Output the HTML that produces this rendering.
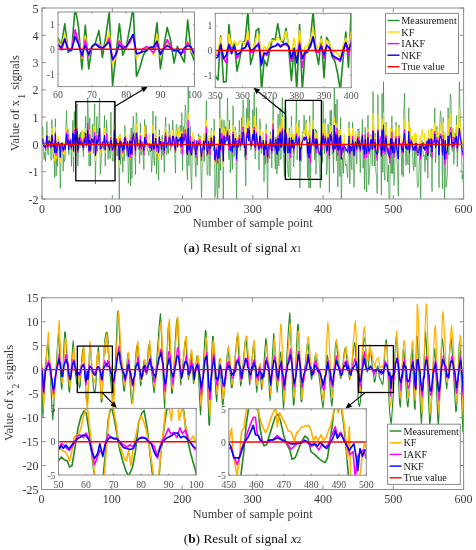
<!DOCTYPE html><html><head><meta charset="utf-8"><title>Signals</title><style>html,body{margin:0;padding:0;background:#fff;width:476px;height:550px;overflow:hidden}</style></head><body><svg width="476" height="550" viewBox="0 0 476 550" style="font-family:'Liberation Serif','Times New Roman',serif;display:block">
<rect width="476" height="550" fill="#fff"/>
<clipPath id="c1"><rect x="42" y="8" width="421.6" height="191.0"/></clipPath>
<rect x="42" y="8" width="421.6" height="191.0" fill="#fff"/>
<text x="58.0" y="98.3" text-anchor="middle" font-size="9.8" fill="#505050">60</text>
<text x="92.1" y="98.3" text-anchor="middle" font-size="9.8" fill="#505050">70</text>
<text x="126.2" y="98.3" text-anchor="middle" font-size="9.8" fill="#505050">80</text>
<text x="160.4" y="98.3" text-anchor="middle" font-size="9.8" fill="#505050">90</text>
<text x="194.5" y="98.3" text-anchor="middle" font-size="9.8" fill="#505050">100</text>
<text x="55.0" y="77.8" text-anchor="end" font-size="9.8" fill="#505050">-1</text>
<text x="55.0" y="53.0" text-anchor="end" font-size="9.8" fill="#505050">0</text>
<text x="55.0" y="28.1" text-anchor="end" font-size="9.8" fill="#505050">1</text>
<text x="215.3" y="99.3" text-anchor="middle" font-size="9.8" fill="#505050">350</text>
<text x="242.5" y="99.3" text-anchor="middle" font-size="9.8" fill="#505050">360</text>
<text x="269.7" y="99.3" text-anchor="middle" font-size="9.8" fill="#505050">370</text>
<text x="296.8" y="99.3" text-anchor="middle" font-size="9.8" fill="#505050">380</text>
<text x="324.0" y="99.3" text-anchor="middle" font-size="9.8" fill="#505050">390</text>
<text x="351.2" y="99.3" text-anchor="middle" font-size="9.8" fill="#505050">400</text>
<text x="212.3" y="79.0" text-anchor="end" font-size="9.8" fill="#505050">-1</text>
<text x="212.3" y="54.2" text-anchor="end" font-size="9.8" fill="#505050">0</text>
<text x="212.3" y="29.4" text-anchor="end" font-size="9.8" fill="#505050">1</text>
<g clip-path="url(#c1)" fill="none" stroke-linejoin="round">
<polyline points="42,144.4 42.7,126.9 43.4,149.1 44.1,159.5 44.8,152.2 45.5,161.3 46.2,143.4 46.9,121.6 47.6,152.8 48.3,155 49,136 49.7,138.3 50.4,142.6 51.1,160.4 51.8,119.5 52.5,132.5 53.2,158.3 53.9,152.3 54.6,177.3 55.4,118.6 56.1,176.3 56.8,148.5 57.5,166.4 58.2,139.7 58.9,141.7 59.6,147.7 60.3,188.3 61,153.8 61.7,145.3 62.4,142.4 63.1,171.3 63.8,152.8 64.5,161.6 65.2,158.7 65.9,125.7 66.6,110.9 67.3,145 68,128.8 68.7,154.8 69.4,146.4 70.1,142.5 70.8,143.3 71.5,166.2 72.2,143.1 72.9,120.2 73.6,172 74.3,111.5 75,142.3 75.7,155.9 76.4,108.6 77.1,104 77.8,166 78.5,143.1 79.2,134 79.9,147.8 80.6,132.1 81.3,145.6 82.1,132.4 82.8,148.7 83.5,156.7 84.2,132.1 84.9,139.5 85.6,116.3 86.3,147.7 87,145.2 87.7,98 88.4,119.9 89.1,166.3 89.8,118 90.5,166 91.2,141.2 91.9,137.1 92.6,124 93.3,153.4 94,129.7 94.7,104 95.4,184 96.1,149.9 96.8,116.3 97.5,151 98.2,141.7 98.9,121.2 99.6,98 100.3,174.2 101,164.3 101.7,151 102.4,145.2 103.1,142.8 103.8,144.4 104.5,115.5 105.2,166 105.9,141.2 106.6,120.4 107.3,134.6 108.1,159.4 108.8,141.2 109.5,151 110.2,158.6 110.9,112.2 111.6,147.7 112.3,157.8 113,161.5 113.7,141.3 114.4,101.7 115.1,160.3 115.8,156.3 116.5,140.5 117.2,155.9 117.9,147.8 118.6,148.4 119.3,198.9 120,134.5 120.7,164.3 121.4,146 122.1,143.7 122.8,172.5 123.5,139.4 124.2,161 124.9,125.6 125.6,140.7 126.3,145.1 127,155.9 127.7,146.7 128.4,183.3 129.1,166.4 129.8,137.4 130.5,185.9 131.2,127.9 131.9,178.5 132.6,129.6 133.3,116 134,129.2 134.8,141.9 135.5,174.6 136.2,112.6 136.9,116.1 137.6,145.7 138.3,149.8 139,147.6 139.7,163.7 140.4,122.7 141.1,155.2 141.8,145.4 142.5,147 143.2,156.9 143.9,169.8 144.6,119.4 145.3,147.5 146,125.2 146.7,144.2 147.4,150.6 148.1,151 148.8,155.6 149.5,144.3 150.2,152 150.9,150.5 151.6,172.2 152.3,160.7 153,111.1 153.7,158 154.4,165.7 155.1,137.6 155.8,116 156.5,173.9 157.2,148.7 157.9,157.3 158.6,180.2 159.3,129.5 160,144.9 160.8,143 161.5,159.8 162.2,135.1 162.9,155.5 163.6,147.4 164.3,172.4 165,130.9 165.7,117 166.4,154.8 167.1,152.8 167.8,145.1 168.5,153.5 169.2,123.9 169.9,131.4 170.6,150.7 171.3,147.6 172,144 172.7,120 173.4,130.3 174.1,136.5 174.8,156.1 175.5,173.2 176.2,124.7 176.9,124.3 177.6,147.4 178.3,133.1 179,128.1 179.7,127 180.4,125.1 181.1,154 181.8,112.6 182.5,170.6 183.2,126.3 183.9,134 184.6,126 185.3,104.8 186,113.1 186.7,168.6 187.5,180.1 188.2,83.4 188.9,165.9 189.6,144.7 190.3,126.6 191,179.4 191.7,189.3 192.4,138.9 193.1,143.5 193.8,149.7 194.5,143.6 195.2,162.8 195.9,176.8 196.6,148 197.3,165.3 198,145.6 198.7,133.6 199.4,145.7 200.1,135.7 200.8,165.7 201.5,197.7 202.2,166 202.9,163.6 203.6,140.2 204.3,161.4 205,136.7 205.7,137.1 206.4,100.5 207.1,174.7 207.8,175.3 208.5,146.4 209.2,144.7 209.9,176 210.6,154.5 211.3,128.2 212,146.2 212.7,142.7 213.5,150.8 214.2,119.1 214.9,197.3 215.6,192.8 216.3,159.6 217,187.8 217.7,204.5 218.4,156.1 219.1,188.1 219.8,96.8 220.5,170.4 221.2,136.1 221.9,119.4 222.6,140.9 223.3,200.2 224,120.4 224.7,143.6 225.4,126.5 226.1,132.1 226.8,139.6 227.5,97.9 228.2,133 228.9,159.7 229.6,119.9 230.3,172.9 231,157.8 231.7,144.6 232.4,169.5 233.1,105.7 233.8,157 234.5,154.9 235.2,127 235.9,133.8 236.6,203.5 237.3,138.8 238,145.8 238.7,142.5 239.4,120.4 240.2,150.5 240.9,148.5 241.6,117.4 242.3,136.8 243,99.9 243.7,109.6 244.4,157.1 245.1,153.3 245.8,185.9 246.5,108.5 247.2,122.4 247.9,98.4 248.6,129.1 249.3,99.4 250,139.5 250.7,150.2 251.4,149.1 252.1,143.2 252.8,109.6 253.5,131.6 254.2,92.3 254.9,157.8 255.6,159.1 256.3,107.3 257,132.7 257.7,142.9 258.4,152.5 259.1,170.2 259.8,118.9 260.5,124.1 261.2,153.6 261.9,149.7 262.6,149.6 263.3,141.9 264,181.7 264.7,149.9 265.4,164.4 266.2,123.7 266.9,162.5 267.6,204.1 268.3,149.5 269,151.8 269.7,158.6 270.4,132.2 271.1,144.5 271.8,167.9 272.5,133.5 273.2,96.8 273.9,150.5 274.6,149.2 275.3,169.2 276,136.9 276.7,174 277.4,170.7 278.1,114 278.8,166 279.5,118.7 280.2,108.1 280.9,159.6 281.6,131.2 282.3,97.7 283,149.1 283.7,158.6 284.4,176.9 285.1,108.1 285.8,108.9 286.5,121.4 287.2,158.8 287.9,172.8 288.6,176.9 289.3,128.3 290,179.4 290.7,178.5 291.4,115.8 292.1,144.7 292.9,134.9 293.6,167.1 294.3,153.2 295,136.5 295.7,133.2 296.4,100.8 297.1,159.7 297.8,148 298.5,122.6 299.2,120.1 299.9,188.1 300.6,154.8 301.3,161.3 302,144.7 302.7,131.6 303.4,133.2 304.1,115 304.8,133.2 305.5,135.7 306.2,120.1 306.9,141.4 307.6,177.7 308.3,141.4 309,188.1 309.7,115.8 310.4,188.1 311.1,148 311.8,146.3 312.5,133.2 313.2,100.8 313.9,144.7 314.6,159.7 315.3,129.1 316,174.4 316.7,130 317.4,136.5 318.1,151.5 318.9,156.4 319.6,169.5 320.3,188.1 321,154.8 321.7,124.2 322.4,163 323.1,100.8 323.8,134.6 324.5,153.9 325.2,118.5 325.9,139.1 326.6,175 327.3,167.9 328,124.1 328.7,132.7 329.4,192.5 330.1,110.3 330.8,129.3 331.5,110.4 332.2,154.2 332.9,151.9 333.6,173.1 334.3,81.7 335,148.9 335.7,104 336.4,160.9 337.1,99.2 337.8,187.1 338.5,154.2 339.2,129.9 339.9,176.5 340.6,117 341.3,204.5 342,171.2 342.7,157.3 343.4,173.4 344.1,145.7 344.8,158.2 345.6,165.7 346.3,164.1 347,170.9 347.7,177.7 348.4,145.7 349.1,121.6 349.8,184 350.5,144.3 351.2,161.3 351.9,169.8 352.6,122.3 353.3,157.9 354,187.2 354.7,164.7 355.4,134.4 356.1,150.4 356.8,164.1 357.5,129.1 358.2,148.5 358.9,128.7 359.6,145.7 360.3,172.9 361,147.1 361.7,143.1 362.4,119.3 363.1,168.2 363.8,145.5 364.5,189.7 365.2,127.3 365.9,172.9 366.6,192.1 367.3,146 368,115.2 368.7,184.7 369.4,173.2 370.1,164.1 370.8,135.6 371.6,134.4 372.3,165.9 373,91.5 373.7,128.9 374.4,166 375.1,132.9 375.8,170.3 376.5,176.7 377.2,193.4 377.9,94.7 378.6,153 379.3,137.9 380,145.3 380.7,140.1 381.4,195.3 382.1,93.2 382.8,172.3 383.5,81.7 384.2,171.6 384.9,180.3 385.6,124.3 386.3,122.3 387,170.4 387.7,182 388.4,164.8 389.1,200.2 389.8,204.5 390.5,130.2 391.2,173.6 391.9,116.2 392.6,173.7 393.3,152.2 394,185.4 394.7,171 395.4,133.6 396.1,122.1 396.8,155.4 397.5,168.2 398.3,196.1 399,124.9 399.7,145.3 400.4,146.7 401.1,147 401.8,175.2 402.5,146.2 403.2,176.9 403.9,109 404.6,93.1 405.3,148.2 406,165.5 406.7,146.2 407.4,161.2 408.1,164.9 408.8,107.8 409.5,173.2 410.2,127.7 410.9,147.3 411.6,137.5 412.3,149.5 413,164.6 413.7,170.7 414.4,151 415.1,167.1 415.8,137.9 416.5,144.6 417.2,182.4 417.9,187.6 418.6,181.9 419.3,161.6 420,152.6 420.7,202.4 421.4,141.9 422.1,140.2 422.8,148.9 423.5,156.3 424.3,154.9 425,171.8 425.7,152 426.4,160 427.1,141.8 427.8,178.3 428.5,137.8 429.2,140.4 429.9,148.4 430.6,156.8 431.3,128.8 432,191.5 432.7,131.4 433.4,135.9 434.1,136.4 434.8,107.7 435.5,163 436.2,151.8 436.9,126.3 437.6,132.2 438.3,138.5 439,187.6 439.7,129.1 440.4,111.1 441.1,115.6 441.8,137.7 442.5,188.9 443.2,117.5 443.9,148.6 444.6,204.5 445.3,133.6 446,187.2 446.7,181.6 447.4,175 448.1,107.8 448.8,155.1 449.5,136.6 450.2,94.1 451,98.5 451.7,147.4 452.4,151.4 453.1,128.4 453.8,164.5 454.5,149 455.2,133 455.9,141.2 456.6,115.6 457.3,166.8 458,146.1 458.7,123.2 459.4,81.7 460.1,113.3 460.8,132.9 461.5,153.4 462.2,179.2 462.9,173.7 463.6,192.3" stroke="#26902f" stroke-width="0.65"/>
<polyline points="42,139.3 42.7,135.5 43.4,145.4 44.1,147.7 44.8,143.9 45.5,146.9 46.2,141.6 46.9,134.6 47.6,148.1 48.3,146.2 49,137.7 49.7,136.4 50.4,141 51.1,147 51.8,127.9 52.5,137.2 53.2,152.9 53.9,149.5 54.6,161 55.4,127.2 56.1,159 56.8,141.2 57.5,150.7 58.2,136 58.9,138.8 59.6,144.4 60.3,162.3 61,146.5 61.7,142.6 62.4,143.3 63.1,154.4 63.8,141.9 64.5,154.7 65.2,148.1 65.9,137 66.6,127.6 67.3,140.5 68,136 68.7,144.9 69.4,147.7 70.1,138.7 70.8,143.7 71.5,150.2 72.2,141.4 72.9,139.1 73.6,156.4 74.3,127.6 75,137.3 75.7,146.6 76.4,126.2 77.1,128.8 77.8,147.7 78.5,136.8 79.2,137.8 79.9,144.4 80.6,141.4 81.3,140.4 82.1,129.7 82.8,142.2 83.5,144.1 84.2,134.6 84.9,141.2 85.6,128.1 86.3,144.4 87,142.8 87.7,125.3 88.4,134.6 89.1,154.3 89.8,129.7 90.5,152.6 91.2,141.2 91.9,138.7 92.6,137.9 93.3,144.4 94,137.9 94.7,126.4 95.4,160.8 96.1,152.6 96.8,134.6 97.5,141.2 98.2,140.3 98.9,134.6 99.6,129.7 100.3,154.3 101,147.7 101.7,145.2 102.4,142.8 103.1,142.8 103.8,151 104.5,128.1 105.2,152.6 105.9,142.8 106.6,137.1 107.3,142.8 108.1,145.2 108.8,145.2 109.5,149.3 110.2,147.7 110.9,135.4 111.6,146.1 112.3,151 113,149.8 113.7,139.2 114.4,125.1 115.1,154.2 115.8,147.4 116.5,137.9 117.2,142.2 117.9,149 118.6,136.1 119.3,167.7 120,134.7 120.7,146.6 121.4,139.5 122.1,140.8 122.8,156.5 123.5,137.7 124.2,150.4 124.9,140.4 125.6,132.1 126.3,139.8 127,141.3 127.7,144.9 128.4,153.7 129.1,146.3 129.8,134.1 130.5,158.9 131.2,137.7 131.9,156.2 132.6,141.1 133.3,134 134,134.6 134.8,142.9 135.5,154.4 136.2,128.2 136.9,124 137.6,138.2 138.3,143.6 139,139.2 139.7,151.4 140.4,133 141.1,143.2 141.8,144.9 142.5,143 143.2,149.9 143.9,151.4 144.6,126.1 145.3,144.4 146,132.4 146.7,143.4 147.4,146.7 148.1,147.1 148.8,141.7 149.5,134.5 150.2,142.8 150.9,145.4 151.6,150.6 152.3,148.6 153,124.8 153.7,145.7 154.4,149 155.1,136.4 155.8,130.6 156.5,154.2 157.2,147.3 157.9,147.4 158.6,159.6 159.3,135 160,143.6 160.8,139.9 161.5,145.9 162.2,140.7 162.9,147.5 163.6,144.5 164.3,150.2 165,130.4 165.7,127 166.4,145.9 167.1,140.1 167.8,145 168.5,140.3 169.2,133.9 169.9,142.8 170.6,135.9 171.3,137.5 172,143.2 172.7,130 173.4,135.3 174.1,136.9 174.8,149.4 175.5,154.2 176.2,131 176.9,131.5 177.6,138.4 178.3,135.5 179,127.3 179.7,135.2 180.4,131.7 181.1,149.5 181.8,130.7 182.5,147.5 183.2,135.4 183.9,134.6 184.6,132.9 185.3,126.8 186,128.3 186.7,151.6 187.5,156.2 188.2,113.1 188.9,147.3 189.6,141.9 190.3,135.3 191,153.7 191.7,158.8 192.4,135.1 193.1,132.5 193.8,140 194.5,139.9 195.2,148.1 195.9,155.7 196.6,144 197.3,151.3 198,141.6 198.7,136.7 199.4,138.5 200.1,137.5 200.8,149.2 201.5,165 202.2,144.3 202.9,146.4 203.6,133.3 204.3,144.6 205,132.7 205.7,137.6 206.4,120 207.1,144.8 207.8,155.8 208.5,137.4 209.2,135.3 209.9,151.5 210.6,141.8 211.3,129.7 212,142.3 212.7,137.9 213.5,144.7 214.2,131.3 214.9,162.9 215.6,159.7 216.3,145.4 217,156 217.7,167.9 218.4,138.8 219.1,154.1 219.8,118.3 220.5,151.1 221.2,136.5 221.9,127.9 222.6,137 223.3,166.8 224,127.8 224.7,131 225.4,137.4 226.1,131.7 226.8,136.5 227.5,121 228.2,131 228.9,148.9 229.6,129.1 230.3,146.8 231,145.3 231.7,140.6 232.4,149.2 233.1,125 233.8,140.1 234.5,146.1 235.2,129.9 235.9,138.5 236.6,161.1 237.3,137.3 238,147.1 238.7,138.5 239.4,132.6 240.2,142.9 240.9,136.5 241.6,131.5 242.3,139.1 243,117.3 243.7,124.9 244.4,139.9 245.1,141.8 245.8,158.2 246.5,124.9 247.2,126.8 247.9,118 248.6,132.9 249.3,120.9 250,137.4 250.7,142.9 251.4,135.5 252.1,138.5 252.8,128.2 253.5,135.2 254.2,116.1 254.9,142.5 255.6,145.2 256.3,126 257,134.1 257.7,142.9 258.4,145.7 259.1,146.9 259.8,130 260.5,129.7 261.2,139 261.9,139.1 262.6,140.8 263.3,131.8 264,151.7 264.7,141.9 265.4,144.6 266.2,129.3 266.9,148.3 267.6,162.1 268.3,141.2 269,147.1 269.7,144.7 270.4,134.6 271.1,139.9 271.8,152.5 272.5,135.3 273.2,119.8 273.9,140.7 274.6,143.6 275.3,146.5 276,138.9 276.7,150.8 277.4,145.2 278.1,128.4 278.8,148.4 279.5,125.3 280.2,125.2 280.9,145.2 281.6,132.6 282.3,117.1 283,146.4 283.7,146.3 284.4,153.9 285.1,127.1 285.8,126.8 286.5,131.6 287.2,143.1 287.9,148 288.6,144.7 289.3,130 290,151.5 290.7,153.2 291.4,126.7 292.1,139.8 292.9,134.1 293.6,139 294.3,134.1 295,134.9 295.7,138.2 296.4,123.4 297.1,144.7 297.8,143.1 298.5,130.8 299.2,126.7 299.9,155.6 300.6,139.8 301.3,143.1 302,135.7 302.7,133.2 303.4,134.1 304.1,130 304.8,134.1 305.5,132.4 306.2,123.4 306.9,138.2 307.6,149.9 308.3,130.8 309,151.5 309.7,122.6 310.4,153.2 311.1,140.6 311.8,139 312.5,133.2 313.2,120.1 313.9,141.4 314.6,140.6 315.3,131.6 316,148 316.7,133.2 317.4,136.5 318.1,143.9 318.9,146.3 319.6,148 320.3,153.2 321,139 321.7,130.8 322.4,141.4 323.1,123.4 323.8,130.6 324.5,144.1 325.2,123.4 325.9,133.2 326.6,150.6 327.3,144.4 328,133.7 328.7,137.7 329.4,159.5 330.1,125.5 330.8,132.5 331.5,125.7 332.2,140.9 332.9,146.1 333.6,147.1 334.3,117.1 335,140.9 335.7,123 336.4,146.8 337.1,123.7 337.8,156.4 338.5,141.1 339.2,130.1 339.9,148 340.6,129.5 341.3,162.4 342,150 342.7,140.9 343.4,153.9 344.1,134.3 344.8,143.8 345.6,147.5 346.3,143.7 347,144.4 347.7,148.9 348.4,134.7 349.1,128 349.8,148.8 350.5,133.6 351.2,143.8 351.9,142.8 352.6,128.1 353.3,141.9 354,155.8 354.7,145.5 355.4,131 356.1,142.8 356.8,142.7 357.5,130.2 358.2,137.7 358.9,136.9 359.6,137.6 360.3,145.9 361,140 361.7,136.1 362.4,133.8 363.1,144 363.8,139 364.5,151.6 365.2,135.3 365.9,145.7 366.6,155.4 367.3,135.1 368,128.2 368.7,153.6 369.4,141.5 370.1,146.4 370.8,135.3 371.6,133.6 372.3,147.5 373,113.4 373.7,126.1 374.4,146.7 375.1,137 375.8,143.1 376.5,145.7 377.2,152.8 377.9,114.7 378.6,142.1 379.3,134.5 380,140.6 380.7,138.7 381.4,152.9 382.1,119.1 382.8,140.7 383.5,112.7 384.2,148.4 384.9,147.7 385.6,123.9 386.3,126.8 387,149.4 387.7,149.4 388.4,140.2 389.1,158.6 389.8,160.9 390.5,128.2 391.2,146.8 391.9,128.7 392.6,148.2 393.3,141.2 394,150.7 394.7,145.8 395.4,129 396.1,125.9 396.8,144.5 397.5,143.9 398.3,153 399,127.6 399.7,133.6 400.4,138.5 401.1,139.6 401.8,145 402.5,139.6 403.2,154 403.9,120.1 404.6,118.9 405.3,138.2 406,147.6 406.7,140.3 407.4,145.3 408.1,144.5 408.8,121.4 409.5,152.9 410.2,127.7 410.9,140.2 411.6,136.2 412.3,135.9 413,143.5 413.7,149.8 414.4,133.2 415.1,146.6 415.8,132.7 416.5,135.3 417.2,145.9 417.9,152.9 418.6,146.8 419.3,144.1 420,135.7 420.7,159.2 421.4,135.7 422.1,129 422.8,136.4 423.5,139.7 424.3,133.4 425,144.7 425.7,140.6 426.4,139.3 427.1,137.9 427.8,145 428.5,129.8 429.2,135.6 429.9,138.7 430.6,139.6 431.3,129.7 432,155.4 432.7,129.2 433.4,137.9 434.1,133.7 434.8,123.1 435.5,143 436.2,137.3 436.9,132.1 437.6,129.3 438.3,133.7 439,152.9 439.7,133.5 440.4,126.4 441.1,123.8 441.8,135.5 442.5,151.4 443.2,122.5 443.9,134 444.6,152.9 445.3,132.1 446,153.8 446.7,146 447.4,145.5 448.1,118.8 448.8,139 449.5,129.1 450.2,114.5 451,116.5 451.7,134.8 452.4,136.5 453.1,128.6 453.8,141.7 454.5,134 455.2,132.3 455.9,129.1 456.6,124.9 457.3,140.4 458,135.8 458.7,128 459.4,106.7 460.1,124.5 460.8,134.2 461.5,140.1 462.2,148.3 462.9,139.6 463.6,151.6" stroke="#fbdf00" stroke-width="1"/>
<polyline points="42,141.5 42.7,139.2 43.4,144.3 44.1,147.3 44.8,142.6 45.5,150.5 46.2,141.8 46.9,134.9 47.6,148.2 48.3,147 49,141 49.7,145.7 50.4,141.6 51.1,147.8 51.8,135.6 52.5,141.8 53.2,145.3 53.9,145.5 54.6,152.7 55.4,131.8 56.1,155.3 56.8,143.2 57.5,151.3 58.2,141.8 58.9,142.6 59.6,144.5 60.3,156.2 61,146.3 61.7,143.9 62.4,143.2 63.1,151.9 63.8,147.9 64.5,150.2 65.2,148.3 65.9,138 66.6,132.1 67.3,144.7 68,134.2 68.7,144.3 69.4,143.2 70.1,142.8 70.8,138.8 71.5,150.1 72.2,143 72.9,134.5 73.6,152.1 74.3,129.4 75,142.6 75.7,143.2 76.4,132.8 77.1,128.3 77.8,152.6 78.5,139.4 79.2,140.4 79.9,144.6 80.6,137.4 81.3,141.3 82.1,141.4 82.8,145.5 83.5,150.2 84.2,137.9 84.9,145.2 85.6,133.8 86.3,145.2 87,143.6 87.7,122.9 88.4,137.1 89.1,152.6 89.8,134.6 90.5,151.8 91.2,141.2 91.9,138.7 92.6,140.3 93.3,144.4 94,140.3 94.7,132.1 95.4,155.9 96.1,151 96.8,135.4 97.5,141.2 98.2,142 98.9,137.1 99.6,128.9 100.3,149.3 101,148.5 101.7,143.6 102.4,141.2 103.1,144.4 103.8,148.5 104.5,137.9 105.2,149.3 105.9,142.8 106.6,133.8 107.3,141.2 108.1,146.1 108.8,146.1 109.5,148.5 110.2,147.7 110.9,137.1 111.6,142.8 112.3,151 113,147.9 113.7,140.7 114.4,129.7 115.1,148.6 115.8,148.9 116.5,138.7 117.2,145.9 117.9,146.6 118.6,144.6 119.3,160.2 120,139.1 120.7,146.5 121.4,141.2 122.1,144.1 122.8,152.9 123.5,144.1 124.2,148.4 124.9,136.8 125.6,136.9 126.3,143.4 127,151.2 127.7,145.4 128.4,156 129.1,153.1 129.8,142.6 130.5,157.8 131.2,137.2 131.9,155 132.6,140.1 133.3,132.4 134,139.3 134.8,143.4 135.5,156 136.2,134.3 136.9,132.7 137.6,146.9 138.3,145.3 139,143 139.7,150.4 140.4,135.7 141.1,149 141.8,141.2 142.5,142.1 143.2,147 143.9,155.1 144.6,137.1 145.3,142.5 146,133.7 146.7,142.7 147.4,143 148.1,146.7 148.8,147.4 149.5,143.3 150.2,145 150.9,148.2 151.6,150.7 152.3,146.2 153,134.6 153.7,150.4 154.4,149.7 155.1,142.3 155.8,138.5 156.5,151.5 157.2,144.4 157.9,148.5 158.6,151 159.3,138.2 160,144.9 160.8,142.7 161.5,150.4 162.2,141.7 162.9,146.2 163.6,145.4 164.3,153.3 165,135.7 165.7,132.7 166.4,145.2 167.1,145.1 167.8,142.6 168.5,143.5 169.2,136.7 169.9,135.5 170.6,147.2 171.3,144.8 172,145.8 172.7,136 173.4,137.7 174.1,138 174.8,148.4 175.5,152.7 176.2,137.6 176.9,138.2 177.6,146.6 178.3,139.5 179,141.3 179.7,137.5 180.4,137 181.1,147.7 181.8,134.9 182.5,154.5 183.2,133.9 183.9,142.5 184.6,134.4 185.3,129.3 186,133.9 186.7,153.4 187.5,152.9 188.2,120.2 188.9,152.1 189.6,144 190.3,135.6 191,154 191.7,154 192.4,142.6 193.1,142 193.8,147.4 194.5,139.1 195.2,150.7 195.9,158 196.6,144.7 197.3,150.3 198,140 198.7,140.5 199.4,143.8 200.1,139.4 200.8,147.2 201.5,160.6 202.2,148.3 202.9,148.5 203.6,142.5 204.3,148.6 205,140.8 205.7,142.7 206.4,126.9 207.1,155.7 207.8,151 208.5,142.1 209.2,143.6 209.9,155 210.6,147 211.3,137.2 212,142.5 212.7,142.2 213.5,143.5 214.2,136.3 214.9,159.8 215.6,161.8 216.3,146.8 217,156.9 217.7,163.3 218.4,144.9 219.1,156 219.8,133.5 220.5,151.5 221.2,143.5 221.9,133.3 222.6,137.5 223.3,162.1 224,135.5 224.7,143.5 225.4,137 226.1,138.2 226.8,139.3 227.5,130.4 228.2,136.7 228.9,150 229.6,135 230.3,150.2 231,146.2 231.7,145.2 232.4,152.7 233.1,131.9 233.8,147.4 234.5,144.5 235.2,140.3 235.9,139.1 236.6,160.9 237.3,140.5 238,142.9 238.7,139.8 239.4,134.8 240.2,143.6 240.9,143.5 241.6,131.4 242.3,144.6 243,126.8 243.7,132.8 244.4,147.9 245.1,148 245.8,160 246.5,132.7 247.2,137.7 247.9,127.9 248.6,141.3 249.3,126.4 250,141.3 250.7,145.6 251.4,146.2 252.1,144.4 252.8,134.5 253.5,140.3 254.2,126.9 254.9,147.9 255.6,150.7 256.3,132.2 257,141.4 257.7,142.5 258.4,142.3 259.1,150.2 259.8,135.9 260.5,140.1 261.2,148.9 261.9,148.2 262.6,143.6 263.3,144 264,154.9 264.7,146.3 265.4,149.4 266.2,134.2 266.9,150.3 267.6,162.7 268.3,146.5 269,144 269.7,149.7 270.4,141.7 271.1,146 271.8,153.4 272.5,139 273.2,123.6 273.9,147.1 274.6,143 275.3,150.6 276,143.1 276.7,153.1 277.4,152 278.1,135.2 278.8,146.4 279.5,139 280.2,131.3 280.9,147.4 281.6,140.3 282.3,128.5 283,143.1 283.7,147.5 284.4,152.6 285.1,130.7 285.8,136.2 286.5,133.4 287.2,143.5 287.9,149.9 288.6,149.1 289.3,137.3 290,153.2 290.7,158.1 291.4,137.3 292.1,143.1 292.9,140.6 293.6,153.2 294.3,148 295,143.1 295.7,141.4 296.4,133.2 297.1,146.3 297.8,146.3 298.5,139.8 299.2,135.7 299.9,158.9 300.6,147.2 301.3,149.9 302,142.2 302.7,139.8 303.4,139.8 304.1,136.5 304.8,139 305.5,137.3 306.2,138.2 306.9,140.6 307.6,156.4 308.3,143.9 309,156.4 309.7,135.7 310.4,163 311.1,146.3 311.8,144.7 312.5,139.8 313.2,130.8 313.9,146.3 314.6,146.3 315.3,138.2 316,153.2 316.7,138.2 317.4,142.2 318.1,148 318.9,153.2 319.6,154 320.3,156.4 321,146.3 321.7,136.5 322.4,149.9 323.1,133.2 323.8,142.4 324.5,145.5 325.2,135.9 325.9,139.8 326.6,152.7 327.3,151.1 328,136.9 328.7,140.1 329.4,159.2 330.1,133.7 330.8,137.3 331.5,131.8 332.2,143.8 332.9,148.9 333.6,152.8 334.3,125.1 335,144.4 335.7,131.9 336.4,149.3 337.1,128.1 337.8,155.9 338.5,148.5 339.2,136.4 339.9,151.1 340.6,136.1 341.3,159.9 342,152.8 342.7,145.1 343.4,152.5 344.1,145.3 344.8,148.2 345.6,151.2 346.3,148.9 347,151 347.7,153.3 348.4,144.8 349.1,143.5 349.8,155.1 350.5,146.9 351.2,147.9 351.9,148.8 352.6,136.1 353.3,148.1 354,156.5 354.7,149.7 355.4,141.4 356.1,146.2 356.8,151 357.5,136.5 358.2,144.6 358.9,136.8 359.6,144.2 360.3,151.7 361,144.5 361.7,142 362.4,134.2 363.1,150 363.8,144.9 364.5,158.4 365.2,135 365.9,152.4 366.6,158.1 367.3,141 368,132.5 368.7,154.3 369.4,152.7 370.1,144.7 370.8,140 371.6,139.3 372.3,150 373,130.3 373.7,141.3 374.4,149 375.1,139.2 375.8,151.5 376.5,155.2 377.2,160.6 377.9,129.2 378.6,148.7 379.3,139.7 380,141.4 380.7,136.7 381.4,156.8 382.1,129.3 382.8,153.3 383.5,131.3 384.2,152.5 384.9,154.3 385.6,135.5 386.3,135.6 387,149.9 387.7,154 388.4,148.1 389.1,157.1 389.8,163.1 390.5,140 391.2,154.6 391.9,131.9 392.6,149.5 393.3,144.2 394,157.7 394.7,150.8 395.4,140.6 396.1,136.6 396.8,146.9 397.5,149.3 398.3,159.3 399,136 399.7,143.1 400.4,144.6 401.1,144.3 401.8,153.2 402.5,142.3 403.2,153.4 403.9,132.4 404.6,129 405.3,147.3 406,147.8 406.7,145.9 407.4,146.9 408.1,148.5 408.8,135.8 409.5,153.6 410.2,139.4 410.9,145.7 411.6,143.6 412.3,143.4 413,149.7 413.7,150.3 414.4,146.1 415.1,149.4 415.8,142.9 416.5,143.4 417.2,153.3 417.9,155.8 418.6,155.1 419.3,150.4 420,145.4 420.7,159.6 421.4,143.1 422.1,143.6 422.8,143.6 423.5,142.1 424.3,147 425,150.7 425.7,144.8 426.4,152.7 427.1,142.4 427.8,154.5 428.5,138.8 429.2,142.7 429.9,146 430.6,147.3 431.3,138.5 432,158 432.7,139.7 433.4,143.5 434.1,141.4 434.8,131.2 435.5,144.9 436.2,144.1 436.9,137.6 437.6,137.5 438.3,139.7 439,152.6 439.7,136.8 440.4,133.9 441.1,134.5 441.8,141.1 442.5,155.6 443.2,135.2 443.9,146 444.6,164.6 445.3,141.5 446,159.5 446.7,153.9 447.4,152.1 448.1,136 448.8,145.1 449.5,139.4 450.2,128.7 451,127 451.7,140.6 452.4,147.6 453.1,136.8 453.8,148.2 454.5,143.8 455.2,138.3 455.9,143.8 456.6,136.2 457.3,151.3 458,145.2 458.7,137.5 459.4,128.2 460.1,136.4 460.8,138.9 461.5,146 462.2,152.5 462.9,155.3 463.6,158.5" stroke="#ff00ff" stroke-width="1"/>
<polyline points="42,144.5 42.7,138.5 43.4,145.9 44.1,146.4 44.8,145.9 45.5,148.4 46.2,143.3 46.9,135.9 47.6,146.8 48.3,144.8 49,140.5 49.7,141.6 50.4,143 51.1,147.3 51.8,134.8 52.5,138.6 53.2,147 53.9,144.4 54.6,152.8 55.4,134.2 56.1,152.8 56.8,148.2 57.5,147.7 58.2,142.1 58.9,144.7 59.6,144.9 60.3,157.6 61,142.9 61.7,143 62.4,145.6 63.1,150.4 63.8,146.7 64.5,145.4 65.2,149.4 65.9,142 66.6,134 67.3,144.3 68,139.8 68.7,150.1 69.4,143.5 70.1,140.3 70.8,146.4 71.5,147.9 72.2,144.2 72.9,132.9 73.6,150.7 74.3,134.6 75,141.2 75.7,146 76.4,134.4 77.1,131 77.8,150.5 78.5,146.2 79.2,137.3 79.9,145.1 80.6,141.1 81.3,143.4 82.1,142.8 82.8,147 83.5,147.9 84.2,139.5 84.9,142.8 85.6,133 86.3,145.2 87,145.2 87.7,130.5 88.4,138.7 89.1,151 89.8,140.3 90.5,150.2 91.2,141.2 91.9,138.7 92.6,142 93.3,142.8 94,139.5 94.7,136.2 95.4,155.9 96.1,149.3 96.8,139.5 97.5,143.6 98.2,141.7 98.9,134.6 99.6,128.1 100.3,149.3 101,148.5 101.7,146.9 102.4,146.1 103.1,142 103.8,142 104.5,135.4 105.2,150.2 105.9,143.6 106.6,140.3 107.3,142.8 108.1,146.1 108.8,145.2 109.5,150.2 110.2,142.8 110.9,140.3 111.6,142 112.3,150.2 113,148.9 113.7,147.6 114.4,130.1 115.1,146.7 115.8,145.6 116.5,140.9 117.2,144 117.9,144.6 118.6,143.2 119.3,160 120,141.4 120.7,147.4 121.4,143.4 122.1,145.6 122.8,150.8 123.5,142.5 124.2,149.6 124.9,137.7 125.6,143.2 126.3,146.4 127,148.6 127.7,141.4 128.4,156.9 129.1,149.3 129.8,140.7 130.5,154.1 131.2,141 131.9,153.6 132.6,139.3 133.3,134.4 134,140.4 134.8,144.8 135.5,150.3 136.2,133 136.9,135.2 137.6,145 138.3,144.4 139,144.3 139.7,147.6 140.4,139.7 141.1,146.4 141.8,144.2 142.5,146.1 143.2,146.7 143.9,150.6 144.6,137.4 145.3,143.8 146,140.6 146.7,143.6 147.4,144.6 148.1,144.9 148.8,144.9 149.5,145.5 150.2,148.1 150.9,144.9 151.6,150.5 152.3,144.6 153,133.5 153.7,148.8 154.4,148.1 155.1,143.1 155.8,138.2 156.5,147.4 157.2,144.2 157.9,146 158.6,152.5 159.3,136.6 160,143.3 160.8,141.2 161.5,149.5 162.2,143.4 162.9,144.3 163.6,142 164.3,150.4 165,139.5 165.7,135.9 166.4,147.6 167.1,143.4 167.8,142.7 168.5,145.3 169.2,137.4 169.9,138.4 170.6,144.5 171.3,143.2 172,145.4 172.7,136.1 173.4,136.2 174.1,142.3 174.8,147 175.5,150 176.2,136.7 176.9,137.1 177.6,147.1 178.3,139.7 179,141.1 179.7,140.2 180.4,137.5 181.1,146.7 181.8,133.7 182.5,145.5 183.2,137.4 183.9,139.6 184.6,140.1 185.3,133.9 186,136.9 186.7,151 187.5,155.1 188.2,128.2 188.9,149.8 189.6,145.3 190.3,141.1 191,155.3 191.7,155 192.4,142 193.1,141.7 193.8,143.3 194.5,143.9 195.2,147.5 195.9,154.7 196.6,140.8 197.3,147.3 198,144.3 198.7,142.6 199.4,143.3 200.1,144.3 200.8,150.6 201.5,156.7 202.2,149.3 202.9,149.6 203.6,140.9 204.3,149.9 205,141.1 205.7,142.4 206.4,133.2 207.1,151 207.8,153.5 208.5,141 209.2,144.6 209.9,148.8 210.6,148.1 211.3,138.3 212,146.1 212.7,145.3 213.5,145.1 214.2,135.7 214.9,159.8 215.6,154.6 216.3,149 217,155 217.7,159 218.4,145.8 219.1,158.2 219.8,128.3 220.5,149.6 221.2,142.1 221.9,138.6 222.6,145.5 223.3,160.7 224,136.3 224.7,143.9 225.4,140.7 226.1,141.2 226.8,139.8 227.5,131.8 228.2,141.5 228.9,145.5 229.6,136.4 230.3,151.1 231,148.1 231.7,146.2 232.4,152.2 233.1,134.1 233.8,147.3 234.5,145.8 235.2,138.1 235.9,140.4 236.6,158.9 237.3,143.8 238,147.5 238.7,144 239.4,138.8 240.2,146.3 240.9,145.1 241.6,138.5 242.3,143.4 243,132 243.7,134.2 244.4,148 245.1,145.1 245.8,154.9 246.5,135.8 247.2,137.7 247.9,128.4 248.6,140.7 249.3,129.9 250,140.1 250.7,142.7 251.4,146.2 252.1,140 252.8,134.3 253.5,140.7 254.2,130.3 254.9,146.1 255.6,147.4 256.3,134.2 257,138.4 257.7,144.4 258.4,147.4 259.1,149.1 259.8,135.8 260.5,136.5 261.2,147.8 261.9,143.2 262.6,144.2 263.3,140.1 264,155.4 264.7,144.7 265.4,149.3 266.2,140.8 266.9,149.5 267.6,157.3 268.3,145.7 269,146.7 269.7,145.9 270.4,138.8 271.1,142 271.8,151 272.5,140.9 273.2,129.5 273.9,146.3 274.6,146.1 275.3,148.7 276,139.1 276.7,153.2 277.4,154.7 278.1,138.1 278.8,150.9 279.5,137.2 280.2,133.2 280.9,147.8 281.6,141.3 282.3,131.3 283,146.4 283.7,147.4 284.4,153.1 285.1,129.8 285.8,133.1 286.5,139 287.2,149 287.9,153.2 288.6,151.5 289.3,138.2 290,153.2 290.7,149.9 291.4,138.2 292.1,148 292.9,139.8 293.6,149.1 294.3,147.2 295,142.2 295.7,141.4 296.4,135.7 297.1,144.7 297.8,143.1 298.5,139.8 299.2,138.2 299.9,160.5 300.6,147.2 301.3,148 302,142.2 302.7,140.6 303.4,139.8 304.1,137.3 304.8,140.6 305.5,138.2 306.2,136.5 306.9,139.8 307.6,153.2 308.3,142.2 309,158.1 309.7,138.2 310.4,153.2 311.1,146.3 311.8,144.7 312.5,139.8 313.2,129.1 313.9,144.7 314.6,144.7 315.3,139.8 316,149.1 316.7,139 317.4,141.4 318.1,149.9 318.9,151.5 319.6,153.2 320.3,154.8 321,144.7 321.7,135.7 322.4,144.7 323.1,135.7 323.8,140.5 324.5,144.6 325.2,138 325.9,141.1 326.6,151.1 327.3,150.3 328,138.6 328.7,140.7 329.4,155.5 330.1,134.3 330.8,140.6 331.5,136.2 332.2,144.8 332.9,148.3 333.6,151.9 334.3,125.2 335,149.2 335.7,134.5 336.4,146.7 337.1,134.9 337.8,150.1 338.5,150.3 339.2,137.6 339.9,149.1 340.6,135.2 341.3,159.1 342,149.8 342.7,148.3 343.4,149.6 344.1,145.8 344.8,147.5 345.6,147.3 346.3,150.4 347,150.9 347.7,151.7 348.4,146.1 349.1,136 349.8,153 350.5,146.1 351.2,147.9 351.9,151.2 352.6,139.1 353.3,146.9 354,155.5 354.7,147.1 355.4,142.2 356.1,143.5 356.8,148.6 357.5,138.4 358.2,145.5 358.9,140.5 359.6,145.8 360.3,149.8 361,142.7 361.7,139.8 362.4,135.2 363.1,149.1 363.8,144.2 364.5,154.3 365.2,139.4 365.9,148.3 366.6,153.9 367.3,145.4 368,137.5 368.7,151.4 369.4,150.3 370.1,148.9 370.8,139.5 371.6,141.7 372.3,149.4 373,131.2 373.7,143 374.4,147.5 375.1,142.7 375.8,151 376.5,152.8 377.2,154.6 377.9,131.4 378.6,145.7 379.3,144.7 380,144 380.7,145 381.4,155.7 382.1,130.4 382.8,150.5 383.5,124.8 384.2,149.5 384.9,151.5 385.6,138.4 386.3,138.5 387,148.4 387.7,151.1 388.4,150.8 389.1,155.6 389.8,157.6 390.5,138.5 391.2,150 391.9,138.7 392.6,152.7 393.3,142.5 394,153.3 394.7,152.5 395.4,140.4 396.1,138.7 396.8,149.3 397.5,153.2 398.3,158.9 399,138.4 399.7,143.9 400.4,144.6 401.1,143.8 401.8,150.2 402.5,147.5 403.2,152 403.9,136.3 404.6,133.1 405.3,145.4 406,149 406.7,144.5 407.4,150.1 408.1,149.4 408.8,131.4 409.5,152.4 410.2,142.3 410.9,143.9 411.6,140.9 412.3,144.1 413,150.4 413.7,148.4 414.4,146.5 415.1,151 415.8,143 416.5,143.8 417.2,151.7 417.9,153.1 418.6,152.7 419.3,146.3 420,145.5 420.7,156.2 421.4,145.3 422.1,145.2 422.8,143.4 423.5,148.8 424.3,146.6 425,150.4 425.7,146.2 426.4,148.1 427.1,140.7 427.8,155.9 428.5,140.6 429.2,138.9 429.9,144.5 430.6,146.6 431.3,138.7 432,152 432.7,142.4 433.4,141.4 434.1,142 434.8,133.9 435.5,147.8 436.2,144.3 436.9,139.9 437.6,140.6 438.3,143.3 439,155.1 439.7,140.2 440.4,135.8 441.1,138.6 441.8,139.4 442.5,154.5 443.2,139.4 443.9,142.8 444.6,159.2 445.3,140.2 446,153.9 446.7,152.1 447.4,150.7 448.1,135.8 448.8,146.1 449.5,138.4 450.2,135.2 451,132.5 451.7,143.6 452.4,147 453.1,142 453.8,144.9 454.5,145.3 455.2,137.5 455.9,142 456.6,136.6 457.3,148.2 458,143 458.7,136.6 459.4,128 460.1,136 460.8,140.6 461.5,143.5 462.2,150.5 462.9,152.2 463.6,156" stroke="#0000ff" stroke-width="1"/>
<polyline points="42,144.4 463.6,144.4" stroke="#ff0000" stroke-width="1.1"/>
</g>
<path d="M42.0,199v-4M42.0,8v4M112.3,199v-4M112.3,8v4M182.5,199v-4M182.5,8v4M252.8,199v-4M252.8,8v4M323.1,199v-4M323.1,8v4M393.3,199v-4M393.3,8v4M463.6,199v-4M463.6,8v4M42,199.0h4M463.6,199.0h-4M42,171.7h4M463.6,171.7h-4M42,144.4h4M463.6,144.4h-4M42,117.1h4M463.6,117.1h-4M42,89.9h4M463.6,89.9h-4M42,62.6h4M463.6,62.6h-4M42,35.3h4M463.6,35.3h-4M42,8.0h4M463.6,8.0h-4" stroke="#8c8c8c" stroke-width="1" fill="none"/>
<rect x="42" y="8" width="421.6" height="191.0" fill="none" stroke="#8c8c8c" stroke-width="1"/>
<text x="42.0" y="212.7" text-anchor="middle" font-size="12" fill="#3a3a3a">0</text>
<text x="112.3" y="212.7" text-anchor="middle" font-size="12" fill="#3a3a3a">100</text>
<text x="182.5" y="212.7" text-anchor="middle" font-size="12" fill="#3a3a3a">200</text>
<text x="252.8" y="212.7" text-anchor="middle" font-size="12" fill="#3a3a3a">300</text>
<text x="323.1" y="212.7" text-anchor="middle" font-size="12" fill="#3a3a3a">400</text>
<text x="393.3" y="212.7" text-anchor="middle" font-size="12" fill="#3a3a3a">500</text>
<text x="463.6" y="212.7" text-anchor="middle" font-size="12" fill="#3a3a3a">600</text>
<text x="38.6" y="203.5" text-anchor="end" font-size="12" fill="#3a3a3a">-2</text>
<text x="38.6" y="176.2" text-anchor="end" font-size="12" fill="#3a3a3a">-1</text>
<text x="38.6" y="148.9" text-anchor="end" font-size="12" fill="#3a3a3a">0</text>
<text x="38.6" y="121.6" text-anchor="end" font-size="12" fill="#3a3a3a">1</text>
<text x="38.6" y="94.4" text-anchor="end" font-size="12" fill="#3a3a3a">2</text>
<text x="38.6" y="67.1" text-anchor="end" font-size="12" fill="#3a3a3a">3</text>
<text x="38.6" y="39.8" text-anchor="end" font-size="12" fill="#3a3a3a">4</text>
<text x="38.6" y="12.5" text-anchor="end" font-size="12" fill="#3a3a3a">5</text>
<rect x="75.8" y="101.6" width="39.2" height="79.2" fill="none" stroke="#000" stroke-width="1.3"/>
<rect x="285.4" y="100.4" width="36" height="79" fill="none" stroke="#000" stroke-width="1.3"/>
<line x1="114.7" y1="106.5" x2="142.2" y2="89.9" stroke="#000" stroke-width="1.2"/>
<polygon points="147.8,86.6 143.7,92.3 140.8,87.5" fill="#000"/>
<line x1="285.2" y1="113.8" x2="258.3" y2="91.7" stroke="#000" stroke-width="1.2"/>
<polygon points="253.3,87.6 260.1,89.6 256.5,93.9" fill="#000"/>
<clipPath id="i1"><rect x="58" y="12" width="136.5" height="74.6"/></clipPath>
<rect x="58" y="12" width="136.5" height="74.6" fill="#fff"/>
<g clip-path="url(#i1)" fill="none" stroke-linejoin="round">
<polyline points="58,38.1 61.4,44.8 64.8,23.7 68.2,52.3 71.7,50 75.1,7 78.5,26.9 81.9,69.2 85.3,25.2 88.7,68.9 92.1,46.3 95.5,42.6 98.9,30.6 102.4,57.5 105.8,35.9 109.2,12.5 112.6,85.4 116,54.3 119.4,23.7 122.8,55.3 126.2,46.8 129.7,28.2 133.1,7 136.5,76.4 139.9,67.5 143.3,55.3 146.7,50 150.1,47.8 153.6,49.3 157,22.9 160.4,68.9 163.8,46.3 167.2,27.4 170.6,40.3 174,63 177.4,46.3 180.9,55.3 184.3,62.2 187.7,20 191.1,52.3 194.5,61.5" stroke="#1f8a1f" stroke-width="1.6"/>
<polyline points="58,40.3 61.4,46.3 64.8,34.4 68.2,49.3 71.7,47.8 75.1,31.9 78.5,40.3 81.9,58.3 85.3,35.9 88.7,56.8 92.1,46.3 95.5,44.1 98.9,43.3 102.4,49.3 105.8,43.3 109.2,32.9 112.6,64.2 116,56.8 119.4,40.3 122.8,46.3 126.2,45.6 129.7,40.3 133.1,35.9 136.5,58.3 139.9,52.3 143.3,50 146.7,47.8 150.1,47.8 153.6,55.3 157,34.4 160.4,56.8 163.8,47.8 167.2,42.6 170.6,47.8 174,50 177.4,50 180.9,53.8 184.3,52.3 187.7,41.1 191.1,50.8 194.5,55.3" stroke="#fbdf00" stroke-width="1.6"/>
<polyline points="58,43.3 61.4,50 64.8,39.6 68.2,50 71.7,48.6 75.1,29.7 78.5,42.6 81.9,56.8 85.3,40.3 88.7,56 92.1,46.3 95.5,44.1 98.9,45.6 102.4,49.3 105.8,45.6 109.2,38.1 112.6,59.7 116,55.3 119.4,41.1 122.8,46.3 126.2,47.1 129.7,42.6 133.1,35.1 136.5,53.8 139.9,53 143.3,48.6 146.7,46.3 150.1,49.3 153.6,53 157,43.3 160.4,53.8 163.8,47.8 167.2,39.6 170.6,46.3 174,50.8 177.4,50.8 180.9,53 184.3,52.3 187.7,42.6 191.1,47.8 194.5,55.3" stroke="#ff00ff" stroke-width="1.6"/>
<polyline points="58,44.8 61.4,47.8 64.8,38.9 68.2,50 71.7,50 75.1,36.6 78.5,44.1 81.9,55.3 85.3,45.6 88.7,54.5 92.1,46.3 95.5,44.1 98.9,47.1 102.4,47.8 105.8,44.8 109.2,41.8 112.6,59.7 116,53.8 119.4,44.8 122.8,48.6 126.2,46.8 129.7,40.3 133.1,34.4 136.5,53.8 139.9,53 143.3,51.5 146.7,50.8 150.1,47.1 153.6,47.1 157,41.1 160.4,54.5 163.8,48.6 167.2,45.6 170.6,47.8 174,50.8 177.4,50 180.9,54.5 184.3,47.8 187.7,45.6 191.1,47.1 194.5,54.5" stroke="#0000ff" stroke-width="1.6"/>
<polyline points="58,49.3 194.5,49.3" stroke="#ff0000" stroke-width="1.6"/>
</g>
<path d="M58.0,86.6v-1.5M58.0,12v1.5M92.1,86.6v-1.5M92.1,12v1.5M126.2,86.6v-1.5M126.2,12v1.5M160.4,86.6v-1.5M160.4,12v1.5M194.5,86.6v-1.5M194.5,12v1.5M58,74.2h1.5M194.5,74.2h-1.5M58,49.3h1.5M194.5,49.3h-1.5M58,24.4h1.5M194.5,24.4h-1.5" stroke="#8c8c8c" stroke-width="1" fill="none"/>
<rect x="58" y="12" width="136.5" height="74.6" fill="none" stroke="#8c8c8c" stroke-width="1"/>
<clipPath id="i2"><rect x="215.3" y="13.3" width="135.9" height="74.4"/></clipPath>
<rect x="215.3" y="13.3" width="135.9" height="74.4" fill="#fff"/>
<g clip-path="url(#i2)" fill="none" stroke-linejoin="round">
<polyline points="215.3,76.3 218,80 220.7,35.9 223.5,82.2 226.2,81.5 228.9,24.5 231.6,50.7 234.3,41.8 237,71.1 239.8,58.4 242.5,43.3 245.2,40.3 247.9,10.8 250.6,64.4 253.4,53.7 256.1,30.7 258.8,28.4 261.5,90.2 264.2,59.9 266.9,65.9 269.7,50.7 272.4,38.8 275.1,40.3 277.8,23.7 280.5,40.3 283.2,42.6 286,28.4 288.7,47.8 291.4,80.8 294.1,47.8 296.8,90.2 299.6,24.5 302.3,90.2 305,53.7 307.7,52.2 310.4,40.3 313.1,10.8 315.9,50.7 318.6,64.4 321.3,36.6 324,77.8 326.7,37.4 329.5,43.3 332.2,56.9 334.9,61.4 337.6,73.3 340.3,90.2 343,59.9 345.8,32.1 348.5,67.4 351.2,10.8" stroke="#1f8a1f" stroke-width="1.6"/>
<polyline points="215.3,53.7 218,50.7 220.7,37.4 223.5,56.9 226.2,58.4 228.9,34.4 231.6,46.3 234.3,41.1 237,45.5 239.8,41.1 242.5,41.8 245.2,44.8 247.9,31.4 250.6,50.7 253.4,49.3 256.1,38.1 258.8,34.4 261.5,60.7 264.2,46.3 266.9,49.3 269.7,42.6 272.4,40.3 275.1,41.1 277.8,37.4 280.5,41.1 283.2,39.6 286,31.4 288.7,44.8 291.4,55.5 294.1,38.1 296.8,56.9 299.6,30.7 302.3,58.4 305,47 307.7,45.5 310.4,40.3 313.1,28.4 315.9,47.8 318.6,47 321.3,38.8 324,53.7 326.7,40.3 329.5,43.3 332.2,50 334.9,52.2 337.6,53.7 340.3,58.4 343,45.5 345.8,38.1 348.5,47.8 351.2,31.4" stroke="#fbdf00" stroke-width="1.6"/>
<polyline points="215.3,55.5 218,54.7 220.7,44.1 223.5,58.4 226.2,62.9 228.9,44.1 231.6,49.3 234.3,47 237,58.4 239.8,53.7 242.5,49.3 245.2,47.8 247.9,40.3 250.6,52.2 253.4,52.2 256.1,46.3 258.8,42.6 261.5,63.6 264.2,53 266.9,55.5 269.7,48.5 272.4,46.3 275.1,46.3 277.8,43.3 280.5,45.5 283.2,44.1 286,44.8 288.7,47 291.4,61.4 294.1,50 296.8,61.4 299.6,42.6 302.3,67.4 305,52.2 307.7,50.7 310.4,46.3 313.1,38.1 315.9,52.2 318.6,52.2 321.3,44.8 324,58.4 326.7,44.8 329.5,48.5 332.2,53.7 334.9,58.4 337.6,59.2 340.3,61.4 343,52.2 345.8,43.3 348.5,55.5 351.2,40.3" stroke="#ff00ff" stroke-width="1.6"/>
<polyline points="215.3,58.4 218,56.9 220.7,44.8 223.5,58.4 226.2,55.5 228.9,44.8 231.6,53.7 234.3,46.3 237,54.7 239.8,53 242.5,48.5 245.2,47.8 247.9,42.6 250.6,50.7 253.4,49.3 256.1,46.3 258.8,44.8 261.5,65.1 264.2,53 266.9,53.7 269.7,48.5 272.4,47 275.1,46.3 277.8,44.1 280.5,47 283.2,44.8 286,43.3 288.7,46.3 291.4,58.4 294.1,48.5 296.8,62.9 299.6,44.8 302.3,58.4 305,52.2 307.7,50.7 310.4,46.3 313.1,36.6 315.9,50.7 318.6,50.7 321.3,46.3 324,54.7 326.7,45.5 329.5,47.8 332.2,55.5 334.9,56.9 337.6,58.4 340.3,59.9 343,50.7 345.8,42.6 348.5,50.7 351.2,42.6" stroke="#0000ff" stroke-width="1.6"/>
<polyline points="215.3,50.5 351.2,50.5" stroke="#ff0000" stroke-width="1.6"/>
</g>
<path d="M215.3,87.7v-1.5M215.3,13.3v1.5M242.5,87.7v-1.5M242.5,13.3v1.5M269.7,87.7v-1.5M269.7,13.3v1.5M296.8,87.7v-1.5M296.8,13.3v1.5M324.0,87.7v-1.5M324.0,13.3v1.5M351.2,87.7v-1.5M351.2,13.3v1.5M215.3,75.3h1.5M351.2,75.3h-1.5M215.3,50.5h1.5M351.2,50.5h-1.5M215.3,25.7h1.5M351.2,25.7h-1.5" stroke="#8c8c8c" stroke-width="1" fill="none"/>
<rect x="215.3" y="13.3" width="135.9" height="74.4" fill="none" stroke="#8c8c8c" stroke-width="1"/>
<rect x="385.5" y="13.4" width="73.0" height="60.1" fill="#fff" stroke="#8c8c8c" stroke-width="1"/>
<line x1="387.5" y1="20.5" x2="399.5" y2="20.5" stroke="#26902f" stroke-width="1.4"/>
<text x="401.3" y="24.0" font-size="10.2" fill="#1a1a1a">Measurement</text>
<line x1="387.5" y1="32.0" x2="399.5" y2="32.0" stroke="#fbdf00" stroke-width="1.4"/>
<text x="401.3" y="35.5" font-size="10.2" fill="#1a1a1a">KF</text>
<line x1="387.5" y1="43.6" x2="399.5" y2="43.6" stroke="#ff00ff" stroke-width="1.4"/>
<text x="401.3" y="47.1" font-size="10.2" fill="#1a1a1a">IAKF</text>
<line x1="387.5" y1="55.2" x2="399.5" y2="55.2" stroke="#0000ff" stroke-width="1.4"/>
<text x="401.3" y="58.6" font-size="10.2" fill="#1a1a1a">NKF</text>
<line x1="387.5" y1="66.7" x2="399.5" y2="66.7" stroke="#ff0000" stroke-width="1.4"/>
<text x="401.3" y="70.2" font-size="10.2" fill="#1a1a1a">True value</text>
<text x="252.7" y="227.4" text-anchor="middle" font-size="12.2" fill="#3a3a3a" textLength="120" lengthAdjust="spacingAndGlyphs">Number of sample point</text>
<text transform="translate(19.1,103.2) rotate(-90)" text-anchor="middle" font-size="12.5" fill="#3a3a3a">Value of x<tspan dx="1.2" dy="6" font-size="9.5">1</tspan><tspan dx="1" dy="-6"> signals</tspan></text>
<text x="183.7" y="252.1" font-size="12.8" fill="#111" textLength="117.6" lengthAdjust="spacingAndGlyphs">(<tspan font-weight="bold">a</tspan>) Result of signal <tspan font-style="italic">x</tspan><tspan font-size="8.5">1</tspan></text>
<clipPath id="c2"><rect x="41.5" y="297.8" width="422.1" height="191.7"/></clipPath>
<rect x="41.5" y="297.8" width="422.1" height="191.7" fill="#fff"/>
<text x="58.5" y="487.8" text-anchor="middle" font-size="9.8" fill="#505050">50</text>
<text x="86.0" y="487.8" text-anchor="middle" font-size="9.8" fill="#505050">60</text>
<text x="113.6" y="487.8" text-anchor="middle" font-size="9.8" fill="#505050">70</text>
<text x="141.1" y="487.8" text-anchor="middle" font-size="9.8" fill="#505050">80</text>
<text x="168.7" y="487.8" text-anchor="middle" font-size="9.8" fill="#505050">90</text>
<text x="196.2" y="487.8" text-anchor="middle" font-size="9.8" fill="#505050">100</text>
<text x="55.5" y="478.7" text-anchor="end" font-size="9.8" fill="#505050">-5</text>
<text x="55.5" y="445.4" text-anchor="end" font-size="9.8" fill="#505050">0</text>
<text x="55.5" y="412.1" text-anchor="end" font-size="9.8" fill="#505050">5</text>
<text x="228.8" y="488.2" text-anchor="middle" font-size="9.8" fill="#505050">450</text>
<text x="256.3" y="488.2" text-anchor="middle" font-size="9.8" fill="#505050">460</text>
<text x="283.8" y="488.2" text-anchor="middle" font-size="9.8" fill="#505050">470</text>
<text x="311.3" y="488.2" text-anchor="middle" font-size="9.8" fill="#505050">480</text>
<text x="338.8" y="488.2" text-anchor="middle" font-size="9.8" fill="#505050">490</text>
<text x="366.3" y="488.2" text-anchor="middle" font-size="9.8" fill="#505050">500</text>
<text x="226.0" y="478.9" text-anchor="end" font-size="9.8" fill="#505050">-5</text>
<text x="226.0" y="445.7" text-anchor="end" font-size="9.8" fill="#505050">0</text>
<text x="226.0" y="412.5" text-anchor="end" font-size="9.8" fill="#505050">5</text>
<g clip-path="url(#c2)" fill="none" stroke-linejoin="round">
<polyline points="41.5,364.9 42.2,391.3 42.9,417.6 43.6,403 44.3,384.3 45,369.7 45.7,363.4 46.4,354.9 47.1,346.7 47.8,343.1 48.5,351.7 49.2,361.9 49.9,369.7 50.6,380.4 51.3,394.8 52.1,409.3 52.8,420 53.5,410.3 54.2,397.2 54.9,384.2 55.6,374.5 56.3,365.9 57,354.4 57.7,342.8 58.4,334.2 59.1,344.4 59.8,358.1 60.5,372.7 61.2,385.5 61.9,389.3 62.6,376.7 63.3,360.9 64,345 64.7,331.9 65.4,332.8 66.1,342.9 66.8,355.1 67.5,368 68.2,380.2 68.9,390.3 69.6,392.2 70.3,383 71,371.6 71.8,359.7 72.5,349 73.2,340.9 73.9,350 74.6,362 75.3,372.9 76,377.1 76.7,383.6 77.4,380.7 78.1,382.5 78.8,383.4 79.5,387.9 80.2,385.7 80.9,373.8 81.6,360.9 82.3,353 83,348.5 83.7,349 84.4,361.1 85.1,376.9 85.8,392.5 86.5,401.8 87.2,404.9 87.9,397 88.6,378.9 89.3,354.4 90,344.8 90.7,351 91.4,361.9 92.2,372.8 92.9,381.2 93.6,387.9 94.3,392.6 95,392.2 95.7,386.8 96.4,375.7 97.1,357.6 97.8,350.8 98.5,347.4 99.2,357.7 99.9,374 100.6,391.3 101.3,402.3 102,401.1 102.7,382.3 103.4,364.9 104.1,350.5 104.8,340.7 105.5,335.2 106.2,332.6 106.9,332.3 107.6,334.2 108.3,343.5 109,357.2 109.7,369.7 110.4,378.2 111.1,385.4 111.8,392.7 112.6,402.2 113.3,393 114,382.3 114.7,373.1 115.4,363.7 116.1,347.4 116.8,328.7 117.5,312.4 118.2,310.9 118.9,322.8 119.6,336.8 120.3,350.2 121,360.1 121.7,366.3 122.4,374.6 123.1,383.4 123.8,390.9 124.5,391 125.2,384.1 125.9,375.7 126.6,367 127.3,359.3 128,353.4 128.7,361.2 129.4,371.5 130.1,383 130.8,394 131.5,402.9 132.3,401.9 133,394.3 133.7,385.1 134.4,375 135.1,364.9 135.8,355.5 136.5,347.7 137.2,345 137.9,352.2 138.6,361.3 139.3,370.9 140,379.5 140.7,386 141.4,381.8 142.1,376.1 142.8,370 143.5,364.3 144.2,360.1 144.9,364.5 145.6,370.1 146.3,374.5 147,367 147.7,357.1 148.4,347.7 149.1,344.3 149.8,349.9 150.5,357 151.2,364.9 151.9,373.1 152.7,380.8 153.4,387.5 154.1,392.7 154.8,386.1 155.5,378 156.2,368.6 156.9,358.4 157.6,347.9 158.3,337.7 159,328.3 159.7,320.2 160.4,313.6 161.1,326.1 161.8,342.3 162.5,360.8 163.2,379.3 163.9,395.6 164.6,408 165.3,395.8 166,379.6 166.7,361.4 167.4,343.6 168.1,328.5 168.8,323.8 169.5,339.1 170.2,358.2 170.9,377.4 171.6,393.2 172.4,393 173.1,382.6 173.8,370.1 174.5,356.5 175.2,342.9 175.9,330.4 176.6,320 177.3,318.8 178,330.7 178.7,345.4 179.4,360.8 180.1,374.6 180.8,385 181.5,379.5 182.2,372.5 182.9,364.3 183.6,355.9 184.3,348.1 185,341.6 185.7,341.4 186.4,350.9 187.1,362.3 187.8,373 188.5,379.7 189.2,372.4 189.9,363 190.6,354.3 191.3,353.4 192,363.2 192.8,374.5 193.5,383.7 194.2,381.3 194.9,375.3 195.6,368.3 196.3,361.4 197,355.6 197.7,357 198.4,370.7 199.1,387.2 199.8,403 200.5,414.7 201.2,405.8 201.9,394.3 202.6,381.2 203.3,367.1 204,353.3 204.7,340.7 205.4,330.2 206.1,331.5 206.8,352.2 207.5,377.7 208.2,403.4 208.9,424.8 209.6,425.2 210.3,404.9 211,380.4 211.7,356.2 212.5,336.4 213.2,336.4 213.9,349.6 214.6,365.2 215.3,381.1 216,394.9 216.7,401.8 217.4,392.4 218.1,380.5 218.8,368.5 219.5,359.1 220.2,365.3 220.9,378 221.6,391.8 222.3,403.6 223,405.2 223.7,398.4 224.4,390.1 225.1,380.9 225.8,371.5 226.5,362.6 227.2,354.8 227.9,348.6 228.6,353.7 229.3,361.8 230,371.1 230.7,380 231.4,387.4 232.1,387.8 232.9,381.8 233.6,374.5 234.3,366.5 235,358.1 235.7,350 236.4,342.7 237.1,336.7 237.8,338.4 238.5,349.6 239.2,362.9 239.9,375.8 240.6,385.9 241.3,383.3 242,376.7 242.7,369 243.4,360.8 244.1,352.6 244.8,345.2 245.5,339.1 246.2,339.8 246.9,348.1 247.6,358.2 248.3,368.6 249,378 249.7,385 250.4,378.8 251.1,370.6 251.8,361.4 252.6,352.6 253.3,345.5 254,348.4 254.7,359.6 255.4,372.6 256.1,384.6 256.8,392.2 257.5,385.1 258.2,376 258.9,367.9 259.6,367.6 260.3,375.1 261,383.4 261.7,389.8 262.4,384.3 263.1,375.6 263.8,365.5 264.5,355.3 265.2,345.9 265.9,338.4 266.6,342.5 267.3,353.5 268,366.5 268.7,379.7 269.4,391.4 270.1,400.4 270.8,389.7 271.5,375.5 272.2,359.8 273,345.1 273.7,333.6 274.4,340 275.1,353.8 275.8,369.2 276.5,383.2 277.2,392.1 277.9,383.9 278.6,373.2 279.3,362 280,352.4 280.7,352.1 281.4,365.3 282.1,381.3 282.8,396.6 283.5,408 284.2,400.1 284.9,390.3 285.6,379 286.3,366.7 287,354 287.7,341.7 288.4,330.3 289.1,320.6 289.8,312.7 290.5,327.2 291.2,346.5 291.9,368 292.6,388.6 293.4,405.3 294.1,403.9 294.8,390.1 295.5,373.5 296.2,355.8 296.9,339.2 297.6,325.4 298.3,324.2 299,341.9 299.7,363.4 300.4,384.7 301.1,401.7 301.8,401.5 302.5,393.5 303.2,384.5 303.9,376 304.6,369.7 305.3,364.2 306,356.9 306.7,349.2 307.4,342.8 308.1,344.2 308.8,351.3 309.5,359.7 310.2,368.3 310.9,375.7 311.6,379.6 312.3,375.6 313.1,370.5 313.8,365 314.5,359.9 315.2,355.9 315.9,357.8 316.6,362.1 317.3,366.8 318,371.2 318.7,374.5 319.4,378.8 320.1,384.5 320.8,390.9 321.5,397.4 322.2,403.2 322.9,407.7 323.6,401.8 324.3,392.9 325,382.6 325.7,372 326.4,362.4 327.1,354.8 327.8,357.3 328.5,365.4 329.2,374.9 329.9,385 330.6,394.7 331.3,402.9 332,406.3 332.7,395.6 333.5,381.9 334.2,367.1 334.9,353.4 335.6,342.6 336.3,344.1 337,349.2 337.7,355.1 338.4,361.6 339.1,367.9 339.8,373.6 340.5,378.3 341.2,378.3 341.9,373.2 342.6,367.1 343.3,360.5 344,354.3 344.7,349.1 345.4,348.1 346.1,352.6 346.8,358 347.5,364.1 348.2,370 348.9,375.3 349.6,379.5 350.3,377 351,371.8 351.7,365.8 352.4,359.3 353.2,352.9 353.9,347.1 354.6,342.5 355.3,346.5 356,359.3 356.7,369.7 357.4,370.4 358.1,398.4 358.8,404.8 359.5,406.4 360.2,403.2 360.9,396.4 361.6,384.2 362.3,364.7 363,348 363.7,341.1 364.4,337.8 365.1,340.8 365.8,352.5 366.5,366.6 367.2,372.2 367.9,369.7 368.6,363.3 369.3,356.8 370,351.5 370.7,350.1 371.4,356.2 372.1,365 372.8,371 373.6,374.7 374.3,382.1 375,381.3 375.7,376.8 376.4,371.5 377.1,367.7 377.8,365.8 378.5,368.8 379.2,376.8 379.9,378.3 380.6,380.1 381.3,382 382,383.5 382.7,384.5 383.4,379.8 384.1,365.9 384.8,350.4 385.5,342.7 386.2,339.6 386.9,345.8 387.6,361.6 388.3,382.3 389,400 389.7,412.8 390.4,418.8 391.1,424.8 391.8,416.8 392.5,406.4 393.3,393.6 394,374.3 394.7,359.9 395.4,347.1 396.1,336.8 396.8,341.7 397.5,355.7 398.2,372.1 398.9,388.5 399.6,402.5 400.3,407.1 401,394.8 401.7,379.4 402.4,363.8 403.1,350.7 403.8,349.5 404.5,359.2 405.2,370.9 405.9,383.5 406.6,395.4 407.3,405.3 408,407 408.7,397.8 409.4,386.5 410.1,374.1 410.8,362.2 411.5,352 412.2,348.3 412.9,365.4 413.7,386.9 414.4,406.9 415.1,409.5 415.8,373 416.5,336.6 417.2,336.3 417.9,349.6 418.6,365.4 419.3,382.3 420,398.6 420.7,412.8 421.4,423.8 422.1,411.7 422.8,395.9 423.5,377.8 424.2,359.8 424.9,344 425.6,331.8 426.3,343.9 427,359.7 427.7,377.7 428.4,395.9 429.1,412.2 429.8,425.1 430.5,419.6 431.2,407.5 431.9,393.2 432.6,378.2 433.3,364.1 434.1,352.2 434.8,348.9 435.5,362.7 436.2,380 436.9,398.3 437.6,414.8 438.3,427.2 439,413.9 439.7,396.4 440.4,376.7 441.1,357.8 441.8,342.2 442.5,339 443.2,346.4 443.9,355.3 444.6,364.9 445.3,374.3 446,382.5 446.7,388.9 447.4,382.2 448.1,373.6 448.8,363.7 449.5,353.8 450.2,344.8 450.9,337.8 451.6,343.1 452.3,353.2 453,365.2 453.8,378.1 454.5,390.8 455.2,402.3 455.9,411.9 456.6,409.8 457.3,394.4 458,375.9 458.7,357.4 459.4,342 460.1,344.1 460.8,365.3 461.5,390.4 462.2,414.2 462.9,432 463.6,408" stroke="#1f8a1f" stroke-width="1.1"/>
<polyline points="41.5,363.9 42.2,366.8 42.9,389.4 43.6,408.5 44.3,395.3 45,379.3 45.7,367.6 46.4,360.6 47.1,346.7 47.8,339.6 48.5,332.1 49.2,346.6 49.9,360.2 50.6,371 51.3,381.6 52.1,387.2 52.8,395.9 53.5,399 54.2,397.4 54.9,384.3 55.6,379.3 56.3,371.6 57,364.4 57.7,345.1 58.4,330.8 59.1,320.3 59.8,333.5 60.5,351.4 61.2,365.3 61.9,380.2 62.6,383.6 63.3,372.1 64,358.7 64.7,347.2 65.4,338.6 66.1,340.9 66.8,345.6 67.5,356.8 68.2,368.4 68.9,379.2 69.6,386.7 70.3,387 71,379.7 71.8,370.8 72.5,357 73.2,351.2 73.9,347.2 74.6,356 75.3,365.2 76,371.9 76.7,372.6 77.4,375.1 78.1,376.5 78.8,378.7 79.5,383.6 80.2,374.7 80.9,365.8 81.6,364.9 82.3,360.8 83,352 83.7,345.6 84.4,353.7 85.1,370.6 85.8,391 86.5,401.7 87.2,409.5 87.9,402.9 88.6,384.7 89.3,358.4 90,341.3 90.7,346.6 91.4,357.5 92.2,370.5 92.9,376.8 93.6,382.1 94.3,380.1 95,382.7 95.7,376.5 96.4,366.2 97.1,356.7 97.8,351 98.5,355.6 99.2,362.8 99.9,372.9 100.6,386.8 101.3,398.4 102,398.7 102.7,380.2 103.4,363.6 104.1,345.6 104.8,343.1 105.5,354.4 106.2,334.7 106.9,334 107.6,352.7 108.3,344.3 109,356.5 109.7,365.4 110.4,368.2 111.1,366.1 111.8,370.2 112.6,416.5 113.3,411.3 114,399.7 114.7,387.2 115.4,373.3 116.1,364 116.8,345.7 117.5,329.5 118.2,312.2 118.9,314.2 119.6,325.2 120.3,338.9 121,350.9 121.7,358.6 122.4,364 123.1,373.8 123.8,379.8 124.5,383.2 125.2,386 125.9,379.7 126.6,372.5 127.3,365.6 128,354.8 128.7,352.4 129.4,360.7 130.1,369.6 130.8,381 131.5,397.4 132.3,403.9 133,402 133.7,393.9 134.4,383.7 135.1,373.6 135.8,360.5 136.5,352 137.2,344.2 137.9,341.2 138.6,349 139.3,358.7 140,368.3 140.7,374.5 141.4,381.7 142.1,378.5 142.8,374.4 143.5,368.1 144.2,364.1 144.9,359.3 145.6,363.7 146.3,372.6 147,372.9 147.7,363.8 148.4,354.1 149.1,346 149.8,340.4 150.5,348.9 151.2,356.5 151.9,363.9 152.7,370.1 153.4,376 154.1,382 154.8,387.3 155.5,383.6 156.2,375.9 156.9,368.2 157.6,358.5 158.3,351.9 159,340.6 159.7,332 160.4,326.4 161.1,321.5 161.8,334.3 162.5,348.9 163.2,363.3 163.9,376.1 164.6,389.7 165.3,400 166,385.3 166.7,371.6 167.4,351.2 168.1,335.6 168.8,322.7 169.5,319 170.2,336.9 170.9,356.2 171.6,375.8 172.4,388.5 173.1,386.9 173.8,377 174.5,365.7 175.2,350.3 175.9,340.4 176.6,329.3 177.3,317.1 178,317.5 178.7,330.8 179.4,348 180.1,361.1 180.8,372.3 181.5,381.5 182.2,373.4 182.9,370.2 183.6,358.8 184.3,352.1 185,341.4 185.7,336.9 186.4,336.6 187.1,349.3 187.8,362.5 188.5,373.1 189.2,377.9 189.9,370.9 190.6,358.3 191.3,349.7 192,351.8 192.8,363.4 193.5,373 194.2,382.3 194.9,375.7 195.6,371.3 196.3,364.1 197,358.7 197.7,355.5 198.4,356.3 199.1,369.4 199.8,382.1 200.5,396.3 201.2,406.3 201.9,398.2 202.6,386.1 203.3,379 204,367.7 204.7,355.6 205.4,346.3 206.1,337.7 206.8,339.5 207.5,355 208.2,380.6 208.9,398.5 209.6,415.1 210.3,412.6 211,395.6 211.7,375.6 212.5,354 213.2,340.4 213.9,342.3 214.6,353.3 215.3,366.2 216,379.7 216.7,389.1 217.4,394.6 218.1,385.8 218.8,375.5 219.5,366.5 220.2,358.3 220.9,365.6 221.6,375.1 222.3,388.4 223,398.9 223.7,396.9 224.4,390.2 225.1,385.8 225.8,372.4 226.5,366.3 227.2,358.5 227.9,349.9 228.6,345.9 229.3,352.8 230,356.7 230.7,370.3 231.4,377.3 232.1,382.8 232.9,384.7 233.6,377.3 234.3,369.3 235,358.3 235.7,354.7 236.4,345.6 237.1,337.5 237.8,332.5 238.5,337.6 239.2,346.7 239.9,360.5 240.6,372.7 241.3,381.5 242,377.7 242.7,371.9 243.4,364.3 244.1,358.1 244.8,348.6 245.5,340.9 246.2,335.8 246.9,337.1 247.6,347 248.3,353.8 249,363.4 249.7,376.2 250.4,380.8 251.1,375 251.8,364 252.6,355.5 253.3,346.9 254,340.1 254.7,344 255.4,357.3 256.1,368.1 256.8,382 257.5,386.3 258.2,380 258.9,370 259.6,364.2 260.3,363.7 261,373.8 261.7,379.4 262.4,386.5 263.1,380.5 263.8,373.6 264.5,364.2 265.2,360.3 265.9,349.6 266.6,346.4 267.3,347.1 268,360.6 268.7,369.7 269.4,381.2 270.1,385.6 270.8,395.4 271.5,384.3 272.2,373.5 273,362.6 273.7,348.8 274.4,338.3 275.1,346.5 275.8,356.3 276.5,370.7 277.2,381.4 277.9,386.6 278.6,372.4 279.3,353.4 280,338.3 280.7,324.1 281.4,326.7 282.1,345.5 282.8,364.2 283.5,388.3 284.2,401.1 284.9,393.5 285.6,386 286.3,373.4 287,369.7 287.7,355.7 288.4,345.4 289.1,339.1 289.8,330.7 290.5,324.5 291.2,334.9 291.9,354.2 292.6,372.4 293.4,384.9 294.1,397.1 294.8,396.4 295.5,387.3 296.2,368.2 296.9,356 297.6,340.5 298.3,331 299,332.8 299.7,347.9 300.4,363.1 301.1,380.6 301.8,399.4 302.5,395.9 303.2,385.5 303.9,381.3 304.6,376.1 305.3,369.1 306,362.3 306.7,353.1 307.4,344.2 308.1,336.4 308.8,339.2 309.5,346.2 310.2,357.3 310.9,366.1 311.6,374 312.3,375.3 313.1,372.6 313.8,368.3 314.5,362 315.2,357.3 315.9,352.6 316.6,356.1 317.3,358.7 318,364.2 318.7,370.6 319.4,374.4 320.1,376.1 320.8,381.3 321.5,387.3 322.2,394.5 322.9,399.5 323.6,399.9 324.3,389.2 325,376.1 325.7,364.2 326.4,345.8 327.1,334.5 327.8,322.5 328.5,328 329.2,341.6 329.9,355.1 330.6,371.8 331.3,383.8 332,396.6 332.7,397.4 333.5,387.7 334.2,373.8 334.9,361.1 335.6,350.2 336.3,339.3 337,343.2 337.7,346.9 338.4,353.3 339.1,361.6 339.8,366.4 340.5,372 341.2,377.1 341.9,374.4 342.6,368 343.3,364.8 344,358.1 344.7,354.7 345.4,346.6 346.1,346.8 346.8,353.9 347.5,356 348.2,361.6 348.9,369.5 349.6,374.2 350.3,379.2 351,371.4 351.7,366.8 352.4,355.8 353.2,342.7 353.9,335.9 354.6,326.8 355.3,320.8 356,332.5 356.7,353.5 357.4,369.2 358.1,371 358.8,359.8 359.5,382.9 360.2,393.6 360.9,377.1 361.6,361 362.3,352.2 363,339.5 363.7,331.3 364.4,326.6 365.1,333.9 365.8,349.1 366.5,356.7 367.2,361.4 367.9,360.6 368.6,354.6 369.3,349.2 370,344.7 370.7,354.2 371.4,350.7 372.1,354.5 372.8,358.7 373.6,361.9 374.3,364.1 375,367.9 375.7,362.6 376.4,360.1 377.1,358.7 377.8,358.1 378.5,357.7 379.2,361.9 379.9,367.9 380.6,366.9 381.3,366.8 382,366.6 382.7,367.3 383.4,363 384.1,357.7 384.8,348.8 385.5,343 386.2,346.9 386.9,344.6 387.6,358 388.3,377.7 389,372.7 389.7,402 390.4,406.4 391.1,403.2 391.8,388.9 392.5,373.8 393.3,374.5 394,379.5 394.7,367.2 395.4,353.4 396.1,342.8 396.8,330.8 397.5,341.9 398.2,352.7 398.9,364.4 399.6,383.6 400.3,397.6 401,398 401.7,383.2 402.4,369.5 403.1,352.6 403.8,340.4 404.5,341.9 405.2,346.9 405.9,363.4 406.6,377 407.3,388.9 408,397.5 408.7,397.5 409.4,387.4 410.1,376.6 410.8,366.3 411.5,351.5 412.2,342.6 412.9,340.9 413.7,360.4 414.4,380.6 415.1,400.2 415.8,394.6 416.5,350 417.2,304.2 417.9,308.4 418.6,326.7 419.3,345.3 420,366.1 420.7,383.1 421.4,404.9 422.1,412.3 422.8,398.9 423.5,377.5 424.2,353.6 424.9,334 425.6,314 426.3,303.6 427,314.6 427.7,335.4 428.4,356.8 429.1,382.1 429.8,401 430.5,412.9 431.2,405.9 431.9,391.6 432.6,374.1 433.3,359.1 434.1,340 434.8,327.6 435.5,325.7 436.2,343.8 436.9,362.4 437.6,385.3 438.3,401.6 439,412.8 439.7,396.7 440.4,376 441.1,352.4 441.8,334.9 442.5,311.8 443.2,313 443.9,323.5 444.6,337.4 445.3,353.2 446,365.7 446.7,375.8 447.4,382.3 448.1,377.4 448.8,367.7 449.5,353 450.2,345 450.9,330.6 451.6,325.7 452.3,334 453,342 453.8,353.4 454.5,371.2 455.2,379.9 455.9,394.2 456.6,401.2 457.3,400.5 458,387.9 458.7,367.9 459.4,350.6 460.1,335.4 460.8,340.4 461.5,361.3 462.2,385.1 462.9,406.3 463.6,418.5" stroke="#ffb000" stroke-width="1.2"/>
<polyline points="41.5,369.7 42.2,368.5 42.9,386 43.6,393.3 44.3,386.4 45,371.4 45.7,368.1 46.4,368.3 47.1,362.9 47.8,363.6 48.5,360.9 49.2,366.9 49.9,363.6 50.6,368.4 51.3,377.6 52.1,382.4 52.8,387.4 53.5,393.8 54.2,389.2 54.9,385.3 55.6,378.3 56.3,371.9 57,366.3 57.7,365.6 58.4,361.9 59.1,353.7 59.8,362.1 60.5,362.9 61.2,370.7 61.9,375.7 62.6,375.7 63.3,371.7 64,364.7 64.7,362.3 65.4,356.8 66.1,354.3 66.8,356.2 67.5,361.1 68.2,364.1 68.9,374.3 69.6,379.6 70.3,378.8 71,376.3 71.8,370.8 72.5,368.1 73.2,359.7 73.9,361.1 74.6,361.1 75.3,369.8 76,368.9 76.7,375 77.4,371.1 78.1,372.4 78.8,374.5 79.5,375.9 80.2,372.9 80.9,369.9 81.6,365.5 82.3,365.1 83,366.8 83.7,363.5 84.4,367.4 85.1,373.8 85.8,385.3 86.5,381.1 87.2,375.9 87.9,378.1 88.6,371.1 89.3,364.4 90,366.6 90.7,367.2 91.4,366.9 92.2,369 92.9,371 93.6,372.4 94.3,373.4 95,371.8 95.7,373.3 96.4,370.6 97.1,367.6 97.8,366.6 98.5,366.6 99.2,368 99.9,369.9 100.6,371.6 101.3,374.3 102,380.8 102.7,372.4 103.4,367.8 104.1,364.3 104.8,360.6 105.5,363.7 106.2,363.6 106.9,366.8 107.6,360.3 108.3,363.9 109,361.3 109.7,367.1 110.4,370.4 111.1,373.5 111.8,375.4 112.6,387.7 113.3,383.9 114,382 114.7,376.5 115.4,372.8 116.1,366 116.8,362.2 117.5,355.4 118.2,349.5 118.9,346.1 119.6,353 120.3,360.8 121,360.9 121.7,367.6 122.4,367.6 123.1,371.4 123.8,374 124.5,378 125.2,381.6 125.9,377.2 126.6,375.5 127.3,365.1 128,364.8 128.7,360.5 129.4,367.1 130.1,375 130.8,373 131.5,381.6 132.3,386 133,385.7 133.7,380.6 134.4,376.2 135.1,375.8 135.8,365.5 136.5,365.5 137.2,362.3 137.9,356.6 138.6,361.1 139.3,367.2 140,374.3 140.7,374.2 141.4,376.7 142.1,375.9 142.8,375.6 143.5,371.5 144.2,370.4 144.9,365.6 145.6,365.9 146.3,367.7 147,373.7 147.7,368.2 148.4,363.7 149.1,362.4 149.8,360.3 150.5,357.6 151.2,364.4 151.9,366 152.7,372.3 153.4,375.1 154.1,382.3 154.8,381.2 155.5,375.3 156.2,369.3 156.9,366.7 157.6,363.9 158.3,361.3 159,358.8 159.7,354.3 160.4,349.5 161.1,350.1 161.8,351.1 162.5,361.4 163.2,370.2 163.9,376.7 164.6,386.2 165.3,391.8 166,380.3 166.7,375.1 167.4,366.1 168.1,357.3 168.8,351.3 169.5,353.3 170.2,355.2 170.9,364.5 171.6,373.5 172.4,380.5 173.1,384.4 173.8,377.8 174.5,370.1 175.2,363.4 175.9,360.3 176.6,355 177.3,348.7 178,347.3 178.7,353.2 179.4,357.7 180.1,367.2 180.8,372.8 181.5,376.7 182.2,375.3 182.9,372.2 183.6,364.1 184.3,364.9 185,363.6 185.7,358 186.4,355 187.1,362.4 187.8,364.2 188.5,372.3 189.2,375.7 189.9,372.5 190.6,367.4 191.3,359.9 192,366 192.8,363.7 193.5,374.3 194.2,377.2 194.9,373.7 195.6,371.1 196.3,368.5 197,370.1 197.7,363.5 198.4,367.1 199.1,364.6 199.8,378.9 200.5,385.9 201.2,394.7 201.9,388.8 202.6,384.8 203.3,373.3 204,369.3 204.7,362.2 205.4,360.1 206.1,355.8 206.8,352.4 207.5,365.2 208.2,377.6 208.9,385.7 209.6,399.7 210.3,398.4 211,385.3 211.7,376.8 212.5,362.7 213.2,358.5 213.9,353.8 214.6,359.2 215.3,369 216,375.8 216.7,384.1 217.4,385.3 218.1,378.6 218.8,378.2 219.5,367.3 220.2,368.5 220.9,369.9 221.6,377.7 222.3,376.2 223,386.5 223.7,386.9 224.4,385.5 225.1,377.6 225.8,379.8 226.5,370.5 227.2,362.2 227.9,364.9 228.6,361.7 229.3,362.2 230,368.5 230.7,370.3 231.4,372.8 232.1,378.1 232.9,378 233.6,376.5 234.3,371.4 235,368.3 235.7,362.1 236.4,360.6 237.1,360 237.8,362.4 238.5,356.3 239.2,360.4 239.9,369.1 240.6,377 241.3,380.2 242,374.5 242.7,375.5 243.4,370.4 244.1,365.8 244.8,360.6 245.5,360.4 246.2,358.3 246.9,359.5 247.6,358 248.3,363 249,369.5 249.7,376.8 250.4,379.1 251.1,373 251.8,371.7 252.6,364.6 253.3,362.4 254,359.9 254.7,360.2 255.4,364.8 256.1,373 256.8,377.9 257.5,375.9 258.2,380 258.9,373.9 259.6,366.7 260.3,369.2 261,374.1 261.7,379.4 262.4,378.6 263.1,374.8 263.8,369.6 264.5,368 265.2,361.9 265.9,362.9 266.6,357.4 267.3,360.8 268,363.2 268.7,366.8 269.4,372.4 270.1,382.7 270.8,382.3 271.5,380.7 272.2,374.8 273,366.3 273.7,363.5 274.4,356 275.1,357.8 275.8,364.1 276.5,368.3 277.2,377.1 277.9,380.9 278.6,379.9 279.3,371.4 280,368.6 280.7,364.1 281.4,363.2 282.1,367.6 282.8,379.1 283.5,386.5 284.2,389.5 284.9,383.9 285.6,379.2 286.3,372.4 287,365.7 287.7,362.7 288.4,359.1 289.1,357 289.8,353.1 290.5,349 291.2,353 291.9,360.4 292.6,369.1 293.4,379.5 294.1,386.1 294.8,386.4 295.5,379.2 296.2,370.9 296.9,365.6 297.6,360.3 298.3,351.8 299,351.5 299.7,359.6 300.4,368.2 301.1,372.3 301.8,387.3 302.5,386.1 303.2,381 303.9,379.6 304.6,372.6 305.3,365.8 306,365.6 306.7,363.5 307.4,360.6 308.1,359.2 308.8,357.9 309.5,363 310.2,366.8 310.9,368.9 311.6,370.7 312.3,373.9 313.1,371.2 313.8,374.5 314.5,365.3 315.2,360.9 315.9,361.6 316.6,365.9 317.3,368.6 318,368 318.7,372.6 319.4,370.5 320.1,375.4 320.8,375 321.5,377.4 322.2,387.9 322.9,385.8 323.6,390.2 324.3,388.8 325,382.6 325.7,376.6 326.4,368.6 327.1,370.2 327.8,361.7 328.5,360.6 329.2,366.8 329.9,371.1 330.6,377.4 331.3,384.7 332,385.1 332.7,387.2 333.5,381.1 334.2,370.2 334.9,367.1 335.6,362.6 336.3,356 337,362.9 337.7,364.4 338.4,365 339.1,368 339.8,367.5 340.5,372.3 341.2,370.3 341.9,370.7 342.6,369.8 343.3,369.5 344,364.9 344.7,362.1 345.4,364.2 346.1,360.7 346.8,361.7 347.5,364.8 348.2,364.2 348.9,367.2 349.6,374.3 350.3,374.3 351,375.1 351.7,369.5 352.4,370.1 353.2,363.7 353.9,362.5 354.6,359 355.3,359.7 356,364 356.7,361.9 357.4,370.1 358.1,375 358.8,375.1 359.5,381 360.2,386 360.9,379.5 361.6,372.5 362.3,367.5 363,361.5 363.7,356.3 364.4,352 365.1,357.6 365.8,366.1 366.5,368.7 367.2,369.7 367.9,369.4 368.6,368.6 369.3,367.8 370,366.1 370.7,365.6 371.4,367.3 372.1,368.4 372.8,370.4 373.6,373 374.3,374.3 375,372.2 375.7,370.9 376.4,370.1 377.1,369.1 377.8,368.9 378.5,370.9 379.2,372.6 379.9,371.8 380.6,373.4 381.3,374.6 382,371.2 382.7,373.3 383.4,371.8 384.1,366.9 384.8,362 385.5,361.2 386.2,364.2 386.9,363.9 387.6,368.5 388.3,372.7 389,378.8 389.7,377 390.4,396 391.1,379.7 391.8,376.6 392.5,375.6 393.3,382.1 394,378.9 394.7,369.6 395.4,363 396.1,361.9 396.8,360.3 397.5,358.2 398.2,360.5 398.9,369.4 399.6,378.6 400.3,380.9 401,390.6 401.7,380.3 402.4,375.8 403.1,367.3 403.8,362.3 404.5,358.8 405.2,367.7 405.9,371.5 406.6,380 407.3,381.5 408,388.5 408.7,387.4 409.4,386.1 410.1,378.8 410.8,369.7 411.5,367.2 412.2,361.6 412.9,360.4 413.7,368.8 414.4,381.7 415.1,386.2 415.8,389.2 416.5,369.2 417.2,361.4 417.9,360.6 418.6,366.7 419.3,370 420,373.8 420.7,382.9 421.4,391.3 422.1,396.5 422.8,389.1 423.5,383.4 424.2,372.9 424.9,365.6 425.6,364.6 426.3,356.1 427,357 427.7,366.7 428.4,374 429.1,384.1 429.8,392 430.5,395 431.2,395.2 431.9,390.8 432.6,388.2 433.3,375.2 434.1,371.8 434.8,367 435.5,360.1 436.2,365.5 436.9,379 437.6,382.2 438.3,391.2 439,400.1 439.7,390.2 440.4,386.5 441.1,375.8 441.8,368.3 442.5,361.6 443.2,356.1 443.9,363.7 444.6,366.7 445.3,369.9 446,371.6 446.7,376.8 447.4,377.4 448.1,377.5 448.8,374.4 449.5,368.5 450.2,363.6 450.9,362.3 451.6,357 452.3,355.7 453,364.7 453.8,367.9 454.5,371 455.2,381.7 455.9,387.9 456.6,393.2 457.3,388.9 458,381 458.7,373.2 459.4,365 460.1,356.5 460.8,358.1 461.5,371.1 462.2,380.1 462.9,391.8 463.6,399.3" stroke="#ff00ff" stroke-width="1.3"/>
<polyline points="41.5,368.8 42.2,369.6 42.9,378.8 43.6,391.4 44.3,382.5 45,376.4 45.7,368.8 46.4,369.9 47.1,366.4 47.8,365.2 48.5,364.4 49.2,363.4 49.9,368.5 50.6,368.9 51.3,376 52.1,379.1 52.8,388 53.5,389.8 54.2,386.1 54.9,379.1 55.6,374.9 56.3,371.9 57,367.1 57.7,365.1 58.4,361.2 59.1,358.4 59.8,362.8 60.5,367.1 61.2,370.3 61.9,376.6 62.6,376.5 63.3,370.3 64,365.7 64.7,363.6 65.4,361.7 66.1,359.5 66.8,362.5 67.5,363.6 68.2,370 68.9,374.2 69.6,376.2 70.3,379.3 71,375.1 71.8,367.2 72.5,364.1 73.2,362.8 73.9,361.2 74.6,366.1 75.3,366.5 76,370.9 76.7,375.4 77.4,372.6 78.1,373.9 78.8,372.9 79.5,374.4 80.2,371.6 80.9,369.3 81.6,367.5 82.3,366.2 83,364.9 83.7,365.5 84.4,368.2 85.1,375.9 85.8,381.1 86.5,378.9 87.2,371.1 87.9,379.4 88.6,371.6 89.3,367.8 90,366.5 90.7,367.5 91.4,367.8 92.2,369.6 92.9,372.3 93.6,374 94.3,374.5 95,375.2 95.7,374.6 96.4,370.5 97.1,367.9 97.8,367 98.5,367 99.2,367.9 99.9,370 100.6,372.9 101.3,378 102,379.6 102.7,373.6 103.4,369.5 104.1,367.3 104.8,366.4 105.5,365.4 106.2,363.7 106.9,363.5 107.6,365.6 108.3,366.2 109,366.4 109.7,368.2 110.4,370.7 111.1,373.2 111.8,374.5 112.6,381.1 113.3,381 114,379.5 114.7,372.5 115.4,372 116.1,369.3 116.8,360.6 117.5,356.8 118.2,353.3 118.9,351.9 119.6,355 120.3,363.2 121,364.5 121.7,369.4 122.4,368.6 123.1,373 123.8,372.4 124.5,376.9 125.2,379.4 125.9,375.3 126.6,374.4 127.3,369 128,365.8 128.7,364.7 129.4,371.1 130.1,371.1 130.8,373.9 131.5,378.4 132.3,380.2 133,384.5 133.7,378.1 134.4,376.9 135.1,371.4 135.8,367.7 136.5,364.5 137.2,364.7 137.9,362.5 138.6,367.1 139.3,370.1 140,369.2 140.7,373.6 141.4,379.1 142.1,376 142.8,372.2 143.5,366.9 144.2,366.3 144.9,365.6 145.6,371.8 146.3,370.1 147,370.7 147.7,368.3 148.4,365.5 149.1,364.1 149.8,359.3 150.5,361.4 151.2,366.4 151.9,370.3 152.7,367.1 153.4,375.1 154.1,374.3 154.8,374.9 155.5,377.9 156.2,372.4 156.9,370.2 157.6,365.7 158.3,363.1 159,357.1 159.7,357.1 160.4,355.9 161.1,351.9 161.8,358.1 162.5,362.8 163.2,363 163.9,375 164.6,380.6 165.3,384.3 166,381.7 166.7,377.6 167.4,365.5 168.1,364 168.8,359.3 169.5,357.7 170.2,363.1 170.9,368.6 171.6,372.4 172.4,374.1 173.1,377.2 173.8,373.3 174.5,372.9 175.2,366.2 175.9,364.6 176.6,357.3 177.3,356.3 178,355.5 178.7,359 179.4,364.1 180.1,370.2 180.8,370.6 181.5,378.3 182.2,375.8 182.9,371.4 183.6,369.6 184.3,365.4 185,361.8 185.7,361.5 186.4,361.5 187.1,364.5 187.8,366.1 188.5,374.6 189.2,372.9 189.9,372.6 190.6,370.3 191.3,365.5 192,366 192.8,366.9 193.5,369.5 194.2,379.6 194.9,374.4 195.6,368.2 196.3,367.7 197,364.7 197.7,365.7 198.4,369 199.1,372.3 199.8,375.1 200.5,380.6 201.2,388.3 201.9,384 202.6,378.7 203.3,377.5 204,369.7 204.7,362.1 205.4,357.5 206.1,359 206.8,355.6 207.5,365.9 208.2,374.4 208.9,386.9 209.6,388.9 210.3,391.6 211,378.7 211.7,373.2 212.5,365.7 213.2,363.9 213.9,357.6 214.6,364.9 215.3,368.8 216,378.4 216.7,377.6 217.4,380.1 218.1,379.6 218.8,373.7 219.5,368.7 220.2,365 220.9,368.4 221.6,369.6 222.3,378.7 223,383.9 223.7,384.2 224.4,385.6 225.1,379.1 225.8,372.1 226.5,370 227.2,369.4 227.9,365 228.6,367.8 229.3,365.9 230,366.6 230.7,369 231.4,375.2 232.1,374.8 232.9,373.1 233.6,375.2 234.3,370.2 235,371.9 235.7,370.3 236.4,363.1 237.1,362.2 237.8,360.2 238.5,362.2 239.2,364.7 239.9,366.3 240.6,368.8 241.3,376.4 242,378.1 242.7,370 243.4,368.5 244.1,366 244.8,364.7 245.5,358.5 246.2,361.1 246.9,360.4 247.6,367.3 248.3,367.7 249,370.8 249.7,373 250.4,374.9 251.1,374.7 251.8,366.8 252.6,369.5 253.3,365.9 254,362.6 254.7,366.2 255.4,365.9 256.1,369.7 256.8,376 257.5,374.7 258.2,375.5 258.9,371.7 259.6,371.1 260.3,372.4 261,373 261.7,375.6 262.4,378.3 263.1,373.9 263.8,376.6 264.5,370.8 265.2,369.2 265.9,360.6 266.6,362.1 267.3,363.2 268,367.4 268.7,367.2 269.4,374.4 270.1,377.6 270.8,385.3 271.5,375.1 272.2,371.2 273,366 273.7,360.5 274.4,360.1 275.1,361.8 275.8,364 276.5,368.8 277.2,375.4 277.9,378.2 278.6,376.1 279.3,369.8 280,365.8 280.7,364.9 281.4,361.2 282.1,371.5 282.8,374.7 283.5,376.7 284.2,385.2 284.9,384.4 285.6,375 286.3,372.3 287,371.2 287.7,363.9 288.4,363.9 289.1,361.3 289.8,356.3 290.5,354.7 291.2,360 291.9,364 292.6,371.2 293.4,376.8 294.1,383.3 294.8,381.4 295.5,378.4 296.2,373.8 296.9,368.4 297.6,361.7 298.3,354.4 299,355.4 299.7,363.2 300.4,366.2 301.1,377.7 301.8,380 302.5,382.6 303.2,377.4 303.9,374.2 304.6,372.7 305.3,369.1 306,370.3 306.7,366.3 307.4,362 308.1,354.4 308.8,361.3 309.5,364.5 310.2,368.9 310.9,367.3 311.6,375.3 312.3,375.1 313.1,371.3 313.8,372.4 314.5,365.5 315.2,364.9 315.9,367 316.6,367.5 317.3,370.2 318,371.7 318.7,369.5 319.4,370.4 320.1,372.6 320.8,374.9 321.5,378.9 322.2,379.6 322.9,385.3 323.6,384.2 324.3,379.2 325,376.1 325.7,375.6 326.4,371.3 327.1,365.1 327.8,362.2 328.5,369.2 329.2,369.4 329.9,371.3 330.6,373.3 331.3,380.9 332,381.2 332.7,384.3 333.5,375 334.2,373.6 334.9,369.3 335.6,365.9 336.3,360.2 337,361.3 337.7,366.1 338.4,365.3 339.1,370.1 339.8,370.7 340.5,373.8 341.2,375.6 341.9,374.3 342.6,373 343.3,368 344,365.7 344.7,365.9 345.4,366.2 346.1,362.2 346.8,368.9 347.5,370.2 348.2,366.8 348.9,368.6 349.6,370 350.3,373.9 351,375 351.7,371.6 352.4,367.6 353.2,368.3 353.9,366.4 354.6,366.1 355.3,364.4 356,361.7 356.7,366 357.4,372 358.1,370.5 358.8,375 359.5,381.2 360.2,381.2 360.9,380.1 361.6,374.2 362.3,368.8 363,366.2 363.7,362 364.4,358.5 365.1,364.6 365.8,366.6 366.5,369.2 367.2,369.9 367.9,369.5 368.6,368.2 369.3,368.2 370,367.3 370.7,366.9 371.4,367.9 372.1,368.9 372.8,369.7 373.6,370.5 374.3,371 375,370.9 375.7,370.5 376.4,370.5 377.1,369.6 377.8,369.1 378.5,370.2 379.2,371.6 379.9,371.2 380.6,372.3 381.3,370.7 382,371.7 382.7,373.5 383.4,373.2 384.1,370 384.8,365.9 385.5,363.6 386.2,365.7 386.9,365 387.6,368.9 388.3,372.5 389,375.3 389.7,372.3 390.4,376.7 391.1,388.3 391.8,376.3 392.5,377.7 393.3,375.4 394,374.6 394.7,372.2 395.4,364.1 396.1,362.7 396.8,358.2 397.5,360.8 398.2,363.8 398.9,370.6 399.6,378.5 400.3,380.9 401,382.6 401.7,375.3 402.4,377.3 403.1,368.5 403.8,362.4 404.5,366.5 405.2,367.2 405.9,366.2 406.6,372.3 407.3,381.2 408,380.5 408.7,381.7 409.4,378.9 410.1,375.4 410.8,371 411.5,369.3 412.2,365.8 412.9,362.3 413.7,368.3 414.4,372.7 415.1,384.5 415.8,389.5 416.5,371.7 417.2,359.9 417.9,359.7 418.6,364 419.3,370.1 420,371.7 420.7,382 421.4,384.8 422.1,390.9 422.8,388 423.5,377 424.2,377.7 424.9,368.6 425.6,361.7 426.3,359.8 427,361.1 427.7,367.1 428.4,373.6 429.1,375.5 429.8,386.3 430.5,391.1 431.2,390.8 431.9,385.5 432.6,377.4 433.3,371.9 434.1,368.2 434.8,366.2 435.5,362.6 436.2,371.1 436.9,374.3 437.6,381.1 438.3,388.5 439,391.3 439.7,387.8 440.4,381.4 441.1,368.9 441.8,365 442.5,359.7 443.2,361 443.9,361.3 444.6,364.2 445.3,366.1 446,366.9 446.7,375 447.4,376.5 448.1,374.6 448.8,377.9 449.5,370.7 450.2,365.2 450.9,361.5 451.6,361.9 452.3,360.1 453,362.6 453.8,369.2 454.5,370.2 455.2,374.4 455.9,381.2 456.6,387.6 457.3,382.1 458,379.4 458.7,372.8 459.4,366 460.1,363 460.8,360.5 461.5,367 462.2,375.2 462.9,385.5 463.6,394.9" stroke="#0000ff" stroke-width="1.4"/>
<polyline points="41.5,369.7 463.6,369.7" stroke="#ff0000" stroke-width="1.2"/>
</g>
<path d="M41.5,489.5v-4M41.5,297.8v4M111.8,489.5v-4M111.8,297.8v4M182.2,489.5v-4M182.2,297.8v4M252.6,489.5v-4M252.6,297.8v4M322.9,489.5v-4M322.9,297.8v4M393.3,489.5v-4M393.3,297.8v4M463.6,489.5v-4M463.6,297.8v4M41.5,489.5h4M463.6,489.5h-4M41.5,465.5h4M463.6,465.5h-4M41.5,441.6h4M463.6,441.6h-4M41.5,417.6h4M463.6,417.6h-4M41.5,393.6h4M463.6,393.6h-4M41.5,369.7h4M463.6,369.7h-4M41.5,345.7h4M463.6,345.7h-4M41.5,321.8h4M463.6,321.8h-4M41.5,297.8h4M463.6,297.8h-4" stroke="#8c8c8c" stroke-width="1" fill="none"/>
<rect x="41.5" y="297.8" width="422.1" height="191.7" fill="none" stroke="#8c8c8c" stroke-width="1"/>
<text x="41.5" y="503.1" text-anchor="middle" font-size="12" fill="#3a3a3a">0</text>
<text x="111.8" y="503.1" text-anchor="middle" font-size="12" fill="#3a3a3a">100</text>
<text x="182.2" y="503.1" text-anchor="middle" font-size="12" fill="#3a3a3a">200</text>
<text x="252.6" y="503.1" text-anchor="middle" font-size="12" fill="#3a3a3a">300</text>
<text x="322.9" y="503.1" text-anchor="middle" font-size="12" fill="#3a3a3a">400</text>
<text x="393.3" y="503.1" text-anchor="middle" font-size="12" fill="#3a3a3a">500</text>
<text x="463.6" y="503.1" text-anchor="middle" font-size="12" fill="#3a3a3a">600</text>
<text x="38.6" y="494.0" text-anchor="end" font-size="12" fill="#3a3a3a">-25</text>
<text x="38.6" y="470.0" text-anchor="end" font-size="12" fill="#3a3a3a">-20</text>
<text x="38.6" y="446.1" text-anchor="end" font-size="12" fill="#3a3a3a">-15</text>
<text x="38.6" y="422.1" text-anchor="end" font-size="12" fill="#3a3a3a">-10</text>
<text x="38.6" y="398.1" text-anchor="end" font-size="12" fill="#3a3a3a">-5</text>
<text x="38.6" y="374.2" text-anchor="end" font-size="12" fill="#3a3a3a">0</text>
<text x="38.6" y="350.2" text-anchor="end" font-size="12" fill="#3a3a3a">5</text>
<text x="38.6" y="326.3" text-anchor="end" font-size="12" fill="#3a3a3a">10</text>
<text x="38.6" y="302.3" text-anchor="end" font-size="12" fill="#3a3a3a">15</text>
<rect x="77.3" y="346.1" width="35.1" height="46.4" fill="none" stroke="#000" stroke-width="1.3"/>
<rect x="358.6" y="345.6" width="34.8" height="46.9" fill="none" stroke="#000" stroke-width="1.3"/>
<line x1="101.9" y1="392.4" x2="112.3" y2="403.2" stroke="#000" stroke-width="1.2"/>
<polygon points="116.8,407.9 110.3,405.2 114.3,401.3" fill="#000"/>
<line x1="365.5" y1="392.4" x2="350.4" y2="404.6" stroke="#000" stroke-width="1.2"/>
<polygon points="345.3,408.7 348.6,402.4 352.1,406.8" fill="#000"/>
<clipPath id="i3"><rect x="58.5" y="408.4" width="137.7" height="66.6"/></clipPath>
<rect x="58.5" y="408.4" width="137.7" height="66.6" fill="#fff"/>
<g clip-path="url(#i3)" fill="none" stroke-linejoin="round">
<polyline points="58.5,461 61.3,457 64.3,459.7 67.3,461 69.5,467 72,465.7 75,447.4 78.1,427.7 81.1,416.4 84.1,410.7 86.3,413.3 88.5,427.7 90.7,444.4 92.9,464 95.1,479 98.4,491.6 101.2,489.7 103.4,473.7 105.9,449 108.1,420.4 111.1,405.7 113.6,415.7 116.6,432.4 119.6,449 122.7,461 125.7,470.3 128.7,476.3 132.6,467 135.6,450.1 138.6,422.4 141.9,413.1 144.1,410.4 147.2,428.4 149.7,450.1 152.1,471.7 155.7,491.6 158.7,481.7 160.9,451.7 165.1,420.4 167.6,404.4 171.4,393.7 175.5,388.4 179.7,392.4 183.8,411.7 186.3,434.5 191,454.8 195.4,470.3 196.2,473.7" stroke="#1f8a1f" stroke-width="1.6"/>
<polyline points="58.5,445.7 62.1,450.4 65.1,451.7 67.3,455 69.5,461 72,450.4 74.2,437 76.4,435 78.6,435 81.1,427.7 83.3,417.1 85.5,409.7 87.1,405.1 88.5,417.1 91.5,443 93.8,468.3 96.2,481.7 99.3,498.3 102,491.6 104.5,474.3 106.7,443 108.9,415.7 111.4,398.4 114.1,412.4 116.6,426.4 118,438.4 120.2,447.4 122.7,453.7 124.9,459.7 126.2,461 128.7,450.1 130.9,465.7 133.4,447 136.4,433 138.6,422.4 141.1,415.7 143.3,420.4 145.8,428.4 148.8,442.4 151.3,459.7 153.5,475 156.3,488.3 158.5,478.3 160.4,456.4 162.9,436.1 165.1,413.1 167.6,398.4 171.4,420.4 173.6,395.1 176.4,385.1 179.1,420.4 182.4,406.4 185.5,425 189.3,441.7 193.2,436.1 195.9,442.4" stroke="#ffb000" stroke-width="1.6"/>
<polyline points="58.5,449 61.3,443.7 64.3,445.7 67.3,449 69.5,450.4 72.5,445.7 75,442 77.2,436 80.3,435 83.3,437.7 86,433 88.5,437.7 91.5,447.4 94.6,465 96.8,458.4 99.8,450.4 102.8,453.7 105.9,441.4 108.1,434.4 111.1,437.7 114.1,438.4 116.6,437.7 119.6,441.4 122.7,444.4 124.9,445.7 127.1,447 130.1,444.7 132.6,447 135.6,443 138.6,438.4 141.9,437 145,437.7 148,440.8 151.3,443.7 154.3,446.4 156,451.7 157.4,458.4 159.8,447 162.1,440.8 165.1,436.1 168.4,428.4 170.6,433.7 173.6,432.4 176.9,437.7 180,427.7 182.4,433.7 185.5,429.7 188.5,440 191.5,443.7 194.8,449.4 196.2,449.7" stroke="#ff00ff" stroke-width="1.6"/>
<polyline points="58.5,449.7 61.3,445.7 63.5,448.4 65.9,445 69,449 71.2,445.7 74.2,442 77.2,439 80.3,437 83.3,435 86.3,436 89.3,440.4 91.5,450.4 94.6,458.4 97.6,453.7 99.8,443.7 102.8,456.4 105.3,444.4 108.1,439 111.1,437 114.1,439 117.2,439 120.2,443 123.2,447.4 127.1,448.4 130.1,449.4 133.4,448.4 136.4,440.8 139.5,438.4 142.5,437.7 145.8,438.4 148.8,441.7 151.3,443.7 153.5,450.1 156,455.7 157.4,456.4 159.8,448.4 162.9,441.7 165.9,438.4 168.9,437 172.2,435.3 174.4,433 177.7,433 180.8,437.7 183.8,436.1 186.8,438.4 190.1,442.4 193.2,446.4 195.9,448.4" stroke="#0000ff" stroke-width="1.6"/>
<polyline points="58.5,441.7 196.2,441.7" stroke="#ff0000" stroke-width="1.6"/>
</g>
<path d="M58.5,475v-1.5M58.5,408.4v1.5M86.0,475v-1.5M86.0,408.4v1.5M113.6,475v-1.5M113.6,408.4v1.5M141.1,475v-1.5M141.1,408.4v1.5M168.7,475v-1.5M168.7,408.4v1.5M196.2,475v-1.5M196.2,408.4v1.5M58.5,475.0h1.5M196.2,475.0h-1.5M58.5,441.7h1.5M196.2,441.7h-1.5M58.5,408.4h1.5M196.2,408.4h-1.5" stroke="#8c8c8c" stroke-width="1" fill="none"/>
<rect x="58.5" y="408.4" width="137.7" height="66.6" fill="none" stroke="#8c8c8c" stroke-width="1"/>
<clipPath id="i4"><rect x="228.8" y="408.8" width="137.5" height="66.4"/></clipPath>
<rect x="228.8" y="408.8" width="137.5" height="66.4" fill="#fff"/>
<g clip-path="url(#i4)" fill="none" stroke-linejoin="round">
<polyline points="228.8,481.8 232.9,495.1 237.1,488.5 240.9,475.2 243.9,451.3 246.1,425.4 248.6,408.1 252.2,398.8 254.9,396.8 258,408.1 260.1,428.3 262.6,442.3 264,445.7 266.5,444.7 268.7,437.7 272,426.7 275,417.4 278,414.1 280.5,420.8 283.5,434.7 286.6,443.9 289.8,450 292.1,459.3 295.1,457.9 297,453.3 301.1,442.3 305,436 308,438.4 311,451.6 314.9,454.6 319,458.6 322,461 325.1,462.6 327.5,457.9 329.7,442.3 332.2,425.4 333.6,412.8 335.2,406.8 338.3,398.8 341.3,406.8 343.8,425.4 346,447 348.4,475.2 352.6,501.8 358.1,518.4 362.2,501.8 366.3,475.2" stroke="#1f8a1f" stroke-width="1.6"/>
<polyline points="228.8,443.9 229.9,436 231.6,428.3 232.9,451.6 235.4,467.2 237.1,475.2 239.3,459.3 241.5,431.4 243.9,428.3 246.1,411.5 249.4,392.2 253.6,382.2 257.1,395.5 259.3,416.1 262.6,426.7 265.6,432.7 267.8,428.3 271.1,417.4 274.2,410.5 275.8,406.8 277.2,426.7 279.7,412.8 281.9,417.4 285.2,423.4 288.2,430.7 291.2,432 294.5,440.7 296.5,433 298.6,431.4 301.1,427.4 303.3,426.7 305.5,426.1 308.8,425.4 311,430 313.5,440.7 315.7,436 318.2,440.7 321.2,434.7 323.4,440.7 325.9,437.7 328.1,432 330.6,425.4 332.8,416.1 335.2,402.2 338.3,412.8 340.7,402.2 343.8,420.8 346,440.7 347.6,459.3 349.3,426.7 350.6,475.2 353.9,495.1 358.1,488.5 360.8,468.6 362.5,451.6 364.6,443.9 366.3,448.6" stroke="#ffb000" stroke-width="1.6"/>
<polyline points="228.8,449.3 230.7,447 233.8,456.3 237.1,464.6 239.3,457.9 241.5,448.5 244.8,440.7 247.8,431.4 250.8,423.4 253.3,417.4 255.5,417.4 257.1,433 259.3,437.7 262.6,441.5 265.6,442.3 269.5,440.7 273.3,439.2 277.2,435.4 280.5,438.4 283.5,440 287.4,443.9 291.2,449.3 294,446.2 297,443.9 301.1,442.3 305,440 308,443.1 311,446.2 314.9,444.7 319,450 322,443.9 325.1,447 328.1,444.7 331.4,436 335.2,426.7 337.4,436 340.7,432 343.8,439.2 346.8,445.3 349.8,454.6 353.1,451.6 355.3,478.5 357.8,456.3 360.8,451.6 364.1,450 366.3,459.3" stroke="#ff00ff" stroke-width="1.6"/>
<polyline points="228.8,443.1 230.7,446.2 233.8,457.9 237.1,457.9 239.3,457.9 241.5,451.6 244.8,441.5 247.8,437.7 250.8,431.4 253.3,425.4 255.5,434.7 258,435.4 260.1,440 263.2,442.3 266.5,442.3 269.5,440 273.3,440 277.2,437.7 280.5,439.2 283.5,440.7 287.4,442.3 291.2,443.9 294,443.9 297,443.1 301.1,443.1 305,440.7 308,442.3 311,444.7 314.9,443.9 317.3,446.2 320.4,442.3 323.4,446.2 326.7,448.5 329.7,443.9 332.8,438.4 335.2,430.7 337.4,438.4 340.7,433.8 343.8,440 346.8,445.3 349.3,450.6 351.5,447 353.9,443.9 356.1,456.3 357.8,470.6 360,448.5 362.5,456.3 364.6,450 366.3,450" stroke="#0000ff" stroke-width="1.6"/>
<polyline points="228.8,442 366.3,442" stroke="#ff0000" stroke-width="1.6"/>
</g>
<path d="M228.8,475.2v-1.5M228.8,408.8v1.5M256.3,475.2v-1.5M256.3,408.8v1.5M283.8,475.2v-1.5M283.8,408.8v1.5M311.3,475.2v-1.5M311.3,408.8v1.5M338.8,475.2v-1.5M338.8,408.8v1.5M366.3,475.2v-1.5M366.3,408.8v1.5M228.8,475.2h1.5M366.3,475.2h-1.5M228.8,442.0h1.5M366.3,442.0h-1.5M228.8,408.8h1.5M366.3,408.8h-1.5" stroke="#8c8c8c" stroke-width="1" fill="none"/>
<rect x="228.8" y="408.8" width="137.5" height="66.4" fill="none" stroke="#8c8c8c" stroke-width="1"/>
<rect x="387.6" y="424.2" width="72.7" height="60.2" fill="#fff" stroke="#8c8c8c" stroke-width="1"/>
<line x1="389.6" y1="431.0" x2="401.6" y2="431.0" stroke="#1f8a1f" stroke-width="1.4"/>
<text x="403.40000000000003" y="434.5" font-size="10.2" fill="#1a1a1a">Measurement</text>
<line x1="389.6" y1="442.7" x2="401.6" y2="442.7" stroke="#ffb000" stroke-width="1.4"/>
<text x="403.40000000000003" y="446.2" font-size="10.2" fill="#1a1a1a">KF</text>
<line x1="389.6" y1="454.4" x2="401.6" y2="454.4" stroke="#ff00ff" stroke-width="1.4"/>
<text x="403.40000000000003" y="457.9" font-size="10.2" fill="#1a1a1a">IAKF</text>
<line x1="389.6" y1="466.1" x2="401.6" y2="466.1" stroke="#0000ff" stroke-width="1.4"/>
<text x="403.40000000000003" y="469.6" font-size="10.2" fill="#1a1a1a">NKF</text>
<line x1="389.6" y1="477.8" x2="401.6" y2="477.8" stroke="#ff0000" stroke-width="1.4"/>
<text x="403.40000000000003" y="481.3" font-size="10.2" fill="#1a1a1a">True value</text>
<text x="252.7" y="518.1" text-anchor="middle" font-size="12.2" fill="#3a3a3a" textLength="120" lengthAdjust="spacingAndGlyphs">Number of sample point</text>
<text transform="translate(13.3,393) rotate(-90)" text-anchor="middle" font-size="12.5" fill="#3a3a3a">Value of x<tspan dx="1.2" dy="6" font-size="9.5">2</tspan><tspan dx="1" dy="-6"> signals</tspan></text>
<text x="183.7" y="543" font-size="12.8" fill="#111" textLength="117.6" lengthAdjust="spacingAndGlyphs">(<tspan font-weight="bold">b</tspan>) Result of signal <tspan font-style="italic">x</tspan><tspan font-size="8.5">2</tspan></text>
</svg></body></html>
